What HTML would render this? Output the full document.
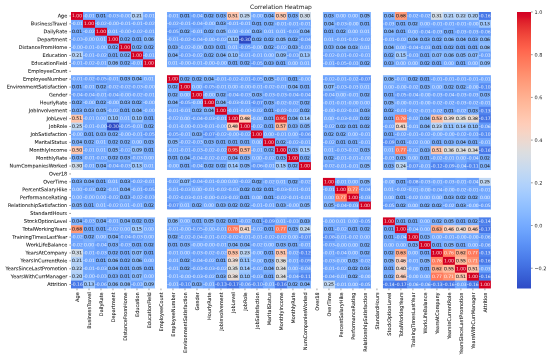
<!DOCTYPE html>
<html lang="en"><head><meta charset="utf-8"><title>Correlation Heatmap</title>
<style>html,body{margin:0;padding:0;background:#fff}body{width:550px;height:359px;overflow:hidden}svg{display:block;filter:blur(0.35px)}text{font-family:"DejaVu Sans","Liberation Sans",sans-serif;text-rendering:geometricPrecision}.w{fill:#fff;fill-opacity:.85;stroke:none}</style>
</head><body>
<svg width="550" height="359" viewBox="0 0 550 359">
<rect width="550" height="359" fill="#fff"/>
<defs><linearGradient id="cb" x1="0" y1="0" x2="0" y2="1"><stop offset="0.0000" stop-color="#d30022"/><stop offset="0.0156" stop-color="#d80926"/><stop offset="0.0312" stop-color="#de1e2a"/><stop offset="0.0469" stop-color="#e42c2f"/><stop offset="0.0625" stop-color="#e93834"/><stop offset="0.0781" stop-color="#ef4339"/><stop offset="0.0938" stop-color="#f34d3e"/><stop offset="0.1094" stop-color="#f85644"/><stop offset="0.1250" stop-color="#fc5e49"/><stop offset="0.1406" stop-color="#ff674f"/><stop offset="0.1562" stop-color="#ff6f54"/><stop offset="0.1719" stop-color="#ff775a"/><stop offset="0.1875" stop-color="#ff7e60"/><stop offset="0.2031" stop-color="#ff8566"/><stop offset="0.2188" stop-color="#ff8d6c"/><stop offset="0.2344" stop-color="#ff9373"/><stop offset="0.2500" stop-color="#ff9a79"/><stop offset="0.2656" stop-color="#ffa07f"/><stop offset="0.2812" stop-color="#ffa686"/><stop offset="0.2969" stop-color="#ffac8c"/><stop offset="0.3125" stop-color="#ffb293"/><stop offset="0.3281" stop-color="#ffb799"/><stop offset="0.3438" stop-color="#ffbc9f"/><stop offset="0.3594" stop-color="#ffc0a6"/><stop offset="0.3750" stop-color="#ffc5ac"/><stop offset="0.3906" stop-color="#ffc9b3"/><stop offset="0.4062" stop-color="#fecdb9"/><stop offset="0.4219" stop-color="#fad0bf"/><stop offset="0.4375" stop-color="#f6d4c5"/><stop offset="0.4531" stop-color="#f0d6cb"/><stop offset="0.4688" stop-color="#ebd9d1"/><stop offset="0.4844" stop-color="#e5dbd7"/><stop offset="0.5000" stop-color="#dedddd"/><stop offset="0.5156" stop-color="#d9dde2"/><stop offset="0.5312" stop-color="#d4dce6"/><stop offset="0.5469" stop-color="#cedbea"/><stop offset="0.5625" stop-color="#c8daee"/><stop offset="0.5781" stop-color="#c2d8f2"/><stop offset="0.5938" stop-color="#bcd6f5"/><stop offset="0.6094" stop-color="#b6d4f8"/><stop offset="0.6250" stop-color="#b0d1fb"/><stop offset="0.6406" stop-color="#aacefc"/><stop offset="0.6562" stop-color="#a3cbfe"/><stop offset="0.6719" stop-color="#9dc7ff"/><stop offset="0.6875" stop-color="#96c3ff"/><stop offset="0.7031" stop-color="#90bfff"/><stop offset="0.7188" stop-color="#8abbff"/><stop offset="0.7344" stop-color="#84b6ff"/><stop offset="0.7500" stop-color="#7db1ff"/><stop offset="0.7656" stop-color="#77acff"/><stop offset="0.7812" stop-color="#71a7fe"/><stop offset="0.7969" stop-color="#6ba2fc"/><stop offset="0.8125" stop-color="#659cfa"/><stop offset="0.8281" stop-color="#6096f8"/><stop offset="0.8438" stop-color="#5a90f5"/><stop offset="0.8594" stop-color="#558af1"/><stop offset="0.8750" stop-color="#5083ee"/><stop offset="0.8906" stop-color="#4b7dea"/><stop offset="0.9062" stop-color="#4676e6"/><stop offset="0.9219" stop-color="#426fe1"/><stop offset="0.9375" stop-color="#3d68dc"/><stop offset="0.9531" stop-color="#3961d6"/><stop offset="0.9688" stop-color="#355ad1"/><stop offset="0.9844" stop-color="#3252cb"/><stop offset="1.0000" stop-color="#2e4bc5"/></linearGradient>
<clipPath id="hm"><rect x="71.00" y="12.00" width="419.90" height="276.50"/></clipPath></defs>
<text transform="matrix(1 0.0006 0 1 0 -0.1686)" x="280.95" y="9.06" font-size="5.94" text-anchor="middle" fill="#1a1a1a">Correlation Heatmap</text>
<g clip-path="url(#hm)">
<rect x="71.00" y="12.00" width="12.35" height="8.25" fill="#d30022"/>
<rect x="83.00" y="12.00" width="12.35" height="8.25" fill="#71a7fe"/>
<rect x="94.99" y="12.00" width="12.35" height="8.25" fill="#77acff"/>
<rect x="106.99" y="12.00" width="12.35" height="8.25" fill="#6ba2fc"/>
<rect x="118.99" y="12.00" width="12.35" height="8.25" fill="#74aaff"/>
<rect x="130.99" y="12.00" width="12.35" height="8.25" fill="#b5d3f9"/>
<rect x="142.98" y="12.00" width="12.35" height="8.25" fill="#71a7fe"/>
<rect x="154.98" y="12.00" width="12.35" height="8.25" fill="#ffffff"/>
<rect x="166.98" y="12.00" width="12.35" height="8.25" fill="#71a7fe"/>
<rect x="178.97" y="12.00" width="12.35" height="8.25" fill="#77acff"/>
<rect x="190.97" y="12.00" width="12.35" height="8.25" fill="#689ffb"/>
<rect x="202.97" y="12.00" width="12.35" height="8.25" fill="#7aafff"/>
<rect x="214.97" y="12.00" width="12.35" height="8.25" fill="#7db1ff"/>
<rect x="226.96" y="12.00" width="12.35" height="8.25" fill="#ffc6ae"/>
<rect x="238.96" y="12.00" width="12.35" height="8.25" fill="#c1d8f3"/>
<rect x="250.96" y="12.00" width="12.35" height="8.25" fill="#74aaff"/>
<rect x="262.95" y="12.00" width="12.35" height="8.25" fill="#80b4ff"/>
<rect x="274.95" y="12.00" width="12.35" height="8.25" fill="#ffc8b1"/>
<rect x="286.95" y="12.00" width="12.35" height="8.25" fill="#7db1ff"/>
<rect x="298.95" y="12.00" width="12.35" height="8.25" fill="#cfdbe9"/>
<rect x="310.94" y="12.00" width="12.35" height="8.25" fill="#ffffff"/>
<rect x="322.94" y="12.00" width="12.35" height="8.25" fill="#7db1ff"/>
<rect x="334.94" y="12.00" width="12.35" height="8.25" fill="#76abff"/>
<rect x="346.93" y="12.00" width="12.35" height="8.25" fill="#76abff"/>
<rect x="358.93" y="12.00" width="12.35" height="8.25" fill="#84b6ff"/>
<rect x="370.93" y="12.00" width="12.35" height="8.25" fill="#ffffff"/>
<rect x="382.93" y="12.00" width="12.35" height="8.25" fill="#80b4ff"/>
<rect x="394.92" y="12.00" width="12.35" height="8.25" fill="#ff9a79"/>
<rect x="406.92" y="12.00" width="12.35" height="8.25" fill="#6ea4fd"/>
<rect x="418.92" y="12.00" width="12.35" height="8.25" fill="#6ea4fd"/>
<rect x="430.91" y="12.00" width="12.35" height="8.25" fill="#d2dce7"/>
<rect x="442.91" y="12.00" width="12.35" height="8.25" fill="#b5d3f9"/>
<rect x="454.91" y="12.00" width="12.35" height="8.25" fill="#b8d4f7"/>
<rect x="466.91" y="12.00" width="12.35" height="8.25" fill="#b1d2fa"/>
<rect x="478.90" y="12.00" width="12.35" height="8.25" fill="#4879e8"/>
<rect x="71.00" y="19.90" width="12.35" height="8.25" fill="#71a7fe"/>
<rect x="83.00" y="19.90" width="12.35" height="8.25" fill="#d30022"/>
<rect x="94.99" y="19.90" width="12.35" height="8.25" fill="#6ea4fd"/>
<rect x="106.99" y="19.90" width="12.35" height="8.25" fill="#74aaff"/>
<rect x="118.99" y="19.90" width="12.35" height="8.25" fill="#71a7fe"/>
<rect x="130.99" y="19.90" width="12.35" height="8.25" fill="#71a7fe"/>
<rect x="142.98" y="19.90" width="12.35" height="8.25" fill="#6ea4fd"/>
<rect x="154.98" y="19.90" width="12.35" height="8.25" fill="#ffffff"/>
<rect x="166.98" y="19.90" width="12.35" height="8.25" fill="#6ea4fd"/>
<rect x="178.97" y="19.90" width="12.35" height="8.25" fill="#71a7fe"/>
<rect x="190.97" y="19.90" width="12.35" height="8.25" fill="#689ffb"/>
<rect x="202.97" y="19.90" width="12.35" height="8.25" fill="#74aaff"/>
<rect x="214.97" y="19.90" width="12.35" height="8.25" fill="#7db1ff"/>
<rect x="226.96" y="19.90" width="12.35" height="8.25" fill="#71a7fe"/>
<rect x="238.96" y="19.90" width="12.35" height="8.25" fill="#71a7fe"/>
<rect x="250.96" y="19.90" width="12.35" height="8.25" fill="#77acff"/>
<rect x="262.95" y="19.90" width="12.35" height="8.25" fill="#7aafff"/>
<rect x="274.95" y="19.90" width="12.35" height="8.25" fill="#71a7fe"/>
<rect x="286.95" y="19.90" width="12.35" height="8.25" fill="#71a7fe"/>
<rect x="298.95" y="19.90" width="12.35" height="8.25" fill="#71a7fe"/>
<rect x="310.94" y="19.90" width="12.35" height="8.25" fill="#ffffff"/>
<rect x="322.94" y="19.90" width="12.35" height="8.25" fill="#80b4ff"/>
<rect x="334.94" y="19.90" width="12.35" height="8.25" fill="#6ba2fc"/>
<rect x="346.93" y="19.90" width="12.35" height="8.25" fill="#74aaff"/>
<rect x="358.93" y="19.90" width="12.35" height="8.25" fill="#77acff"/>
<rect x="370.93" y="19.90" width="12.35" height="8.25" fill="#ffffff"/>
<rect x="382.93" y="19.90" width="12.35" height="8.25" fill="#6ba2fc"/>
<rect x="394.92" y="19.90" width="12.35" height="8.25" fill="#77acff"/>
<rect x="406.92" y="19.90" width="12.35" height="8.25" fill="#7aafff"/>
<rect x="418.92" y="19.90" width="12.35" height="8.25" fill="#76abff"/>
<rect x="430.91" y="19.90" width="12.35" height="8.25" fill="#71a7fe"/>
<rect x="442.91" y="19.90" width="12.35" height="8.25" fill="#71a7fe"/>
<rect x="454.91" y="19.90" width="12.35" height="8.25" fill="#71a7fe"/>
<rect x="466.91" y="19.90" width="12.35" height="8.25" fill="#74aaff"/>
<rect x="478.90" y="19.90" width="12.35" height="8.25" fill="#9dc7ff"/>
<rect x="71.00" y="27.80" width="12.35" height="8.25" fill="#77acff"/>
<rect x="83.00" y="27.80" width="12.35" height="8.25" fill="#6ea4fd"/>
<rect x="94.99" y="27.80" width="12.35" height="8.25" fill="#d30022"/>
<rect x="106.99" y="27.80" width="12.35" height="8.25" fill="#76abff"/>
<rect x="118.99" y="27.80" width="12.35" height="8.25" fill="#74aaff"/>
<rect x="130.99" y="27.80" width="12.35" height="8.25" fill="#6ea4fd"/>
<rect x="142.98" y="27.80" width="12.35" height="8.25" fill="#71a7fe"/>
<rect x="154.98" y="27.80" width="12.35" height="8.25" fill="#ffffff"/>
<rect x="166.98" y="27.80" width="12.35" height="8.25" fill="#659cfa"/>
<rect x="178.97" y="27.80" width="12.35" height="8.25" fill="#7aafff"/>
<rect x="190.97" y="27.80" width="12.35" height="8.25" fill="#71a7fe"/>
<rect x="202.97" y="27.80" width="12.35" height="8.25" fill="#7aafff"/>
<rect x="214.97" y="27.80" width="12.35" height="8.25" fill="#84b6ff"/>
<rect x="226.96" y="27.80" width="12.35" height="8.25" fill="#76abff"/>
<rect x="238.96" y="27.80" width="12.35" height="8.25" fill="#74aaff"/>
<rect x="250.96" y="27.80" width="12.35" height="8.25" fill="#7db1ff"/>
<rect x="262.95" y="27.80" width="12.35" height="8.25" fill="#76abff"/>
<rect x="274.95" y="27.80" width="12.35" height="8.25" fill="#76abff"/>
<rect x="286.95" y="27.80" width="12.35" height="8.25" fill="#6ba2fc"/>
<rect x="298.95" y="27.80" width="12.35" height="8.25" fill="#80b4ff"/>
<rect x="310.94" y="27.80" width="12.35" height="8.25" fill="#ffffff"/>
<rect x="322.94" y="27.80" width="12.35" height="8.25" fill="#77acff"/>
<rect x="334.94" y="27.80" width="12.35" height="8.25" fill="#7aafff"/>
<rect x="346.93" y="27.80" width="12.35" height="8.25" fill="#76abff"/>
<rect x="358.93" y="27.80" width="12.35" height="8.25" fill="#76abff"/>
<rect x="370.93" y="27.80" width="12.35" height="8.25" fill="#ffffff"/>
<rect x="382.93" y="27.80" width="12.35" height="8.25" fill="#80b4ff"/>
<rect x="394.92" y="27.80" width="12.35" height="8.25" fill="#77acff"/>
<rect x="406.92" y="27.80" width="12.35" height="8.25" fill="#76abff"/>
<rect x="418.92" y="27.80" width="12.35" height="8.25" fill="#689ffb"/>
<rect x="430.91" y="27.80" width="12.35" height="8.25" fill="#6ba2fc"/>
<rect x="442.91" y="27.80" width="12.35" height="8.25" fill="#77acff"/>
<rect x="454.91" y="27.80" width="12.35" height="8.25" fill="#6ba2fc"/>
<rect x="466.91" y="27.80" width="12.35" height="8.25" fill="#6ba2fc"/>
<rect x="478.90" y="27.80" width="12.35" height="8.25" fill="#6299f9"/>
<rect x="71.00" y="35.70" width="12.35" height="8.25" fill="#6ba2fc"/>
<rect x="83.00" y="35.70" width="12.35" height="8.25" fill="#74aaff"/>
<rect x="94.99" y="35.70" width="12.35" height="8.25" fill="#76abff"/>
<rect x="106.99" y="35.70" width="12.35" height="8.25" fill="#d30022"/>
<rect x="118.99" y="35.70" width="12.35" height="8.25" fill="#7aafff"/>
<rect x="130.99" y="35.70" width="12.35" height="8.25" fill="#77acff"/>
<rect x="142.98" y="35.70" width="12.35" height="8.25" fill="#87b9ff"/>
<rect x="154.98" y="35.70" width="12.35" height="8.25" fill="#ffffff"/>
<rect x="166.98" y="35.70" width="12.35" height="8.25" fill="#71a7fe"/>
<rect x="178.97" y="35.70" width="12.35" height="8.25" fill="#6ea4fd"/>
<rect x="190.97" y="35.70" width="12.35" height="8.25" fill="#689ffb"/>
<rect x="202.97" y="35.70" width="12.35" height="8.25" fill="#74aaff"/>
<rect x="214.97" y="35.70" width="12.35" height="8.25" fill="#6ea4fd"/>
<rect x="226.96" y="35.70" width="12.35" height="8.25" fill="#93c1ff"/>
<rect x="238.96" y="35.70" width="12.35" height="8.25" fill="#2e4bc5"/>
<rect x="250.96" y="35.70" width="12.35" height="8.25" fill="#7aafff"/>
<rect x="262.95" y="35.70" width="12.35" height="8.25" fill="#7aafff"/>
<rect x="274.95" y="35.70" width="12.35" height="8.25" fill="#84b6ff"/>
<rect x="286.95" y="35.70" width="12.35" height="8.25" fill="#7aafff"/>
<rect x="298.95" y="35.70" width="12.35" height="8.25" fill="#689ffb"/>
<rect x="310.94" y="35.70" width="12.35" height="8.25" fill="#ffffff"/>
<rect x="322.94" y="35.70" width="12.35" height="8.25" fill="#76abff"/>
<rect x="334.94" y="35.70" width="12.35" height="8.25" fill="#71a7fe"/>
<rect x="346.93" y="35.70" width="12.35" height="8.25" fill="#6ea4fd"/>
<rect x="358.93" y="35.70" width="12.35" height="8.25" fill="#6ea4fd"/>
<rect x="370.93" y="35.70" width="12.35" height="8.25" fill="#ffffff"/>
<rect x="382.93" y="35.70" width="12.35" height="8.25" fill="#71a7fe"/>
<rect x="394.92" y="35.70" width="12.35" height="8.25" fill="#6ea4fd"/>
<rect x="406.92" y="35.70" width="12.35" height="8.25" fill="#80b4ff"/>
<rect x="418.92" y="35.70" width="12.35" height="8.25" fill="#7db1ff"/>
<rect x="430.91" y="35.70" width="12.35" height="8.25" fill="#7aafff"/>
<rect x="442.91" y="35.70" width="12.35" height="8.25" fill="#87b9ff"/>
<rect x="454.91" y="35.70" width="12.35" height="8.25" fill="#80b4ff"/>
<rect x="466.91" y="35.70" width="12.35" height="8.25" fill="#7db1ff"/>
<rect x="478.90" y="35.70" width="12.35" height="8.25" fill="#87b9ff"/>
<rect x="71.00" y="43.60" width="12.35" height="8.25" fill="#74aaff"/>
<rect x="83.00" y="43.60" width="12.35" height="8.25" fill="#71a7fe"/>
<rect x="94.99" y="43.60" width="12.35" height="8.25" fill="#74aaff"/>
<rect x="106.99" y="43.60" width="12.35" height="8.25" fill="#7aafff"/>
<rect x="118.99" y="43.60" width="12.35" height="8.25" fill="#d30022"/>
<rect x="130.99" y="43.60" width="12.35" height="8.25" fill="#7aafff"/>
<rect x="142.98" y="43.60" width="12.35" height="8.25" fill="#7aafff"/>
<rect x="154.98" y="43.60" width="12.35" height="8.25" fill="#ffffff"/>
<rect x="166.98" y="43.60" width="12.35" height="8.25" fill="#7db1ff"/>
<rect x="178.97" y="43.60" width="12.35" height="8.25" fill="#6ea4fd"/>
<rect x="190.97" y="43.60" width="12.35" height="8.25" fill="#74aaff"/>
<rect x="202.97" y="43.60" width="12.35" height="8.25" fill="#7db1ff"/>
<rect x="214.97" y="43.60" width="12.35" height="8.25" fill="#77acff"/>
<rect x="226.96" y="43.60" width="12.35" height="8.25" fill="#76abff"/>
<rect x="238.96" y="43.60" width="12.35" height="8.25" fill="#659cfa"/>
<rect x="250.96" y="43.60" width="12.35" height="8.25" fill="#74aaff"/>
<rect x="262.95" y="43.60" width="12.35" height="8.25" fill="#7aafff"/>
<rect x="274.95" y="43.60" width="12.35" height="8.25" fill="#6ea4fd"/>
<rect x="286.95" y="43.60" width="12.35" height="8.25" fill="#7db1ff"/>
<rect x="298.95" y="43.60" width="12.35" height="8.25" fill="#6ba2fc"/>
<rect x="310.94" y="43.60" width="12.35" height="8.25" fill="#ffffff"/>
<rect x="322.94" y="43.60" width="12.35" height="8.25" fill="#7db1ff"/>
<rect x="334.94" y="43.60" width="12.35" height="8.25" fill="#80b4ff"/>
<rect x="346.93" y="43.60" width="12.35" height="8.25" fill="#7db1ff"/>
<rect x="358.93" y="43.60" width="12.35" height="8.25" fill="#76abff"/>
<rect x="370.93" y="43.60" width="12.35" height="8.25" fill="#ffffff"/>
<rect x="382.93" y="43.60" width="12.35" height="8.25" fill="#80b4ff"/>
<rect x="394.92" y="43.60" width="12.35" height="8.25" fill="#76abff"/>
<rect x="406.92" y="43.60" width="12.35" height="8.25" fill="#689ffb"/>
<rect x="418.92" y="43.60" width="12.35" height="8.25" fill="#6ba2fc"/>
<rect x="430.91" y="43.60" width="12.35" height="8.25" fill="#77acff"/>
<rect x="442.91" y="43.60" width="12.35" height="8.25" fill="#7aafff"/>
<rect x="454.91" y="43.60" width="12.35" height="8.25" fill="#77acff"/>
<rect x="466.91" y="43.60" width="12.35" height="8.25" fill="#77acff"/>
<rect x="478.90" y="43.60" width="12.35" height="8.25" fill="#8dbdff"/>
<rect x="71.00" y="51.50" width="12.35" height="8.25" fill="#b5d3f9"/>
<rect x="83.00" y="51.50" width="12.35" height="8.25" fill="#71a7fe"/>
<rect x="94.99" y="51.50" width="12.35" height="8.25" fill="#6ea4fd"/>
<rect x="106.99" y="51.50" width="12.35" height="8.25" fill="#77acff"/>
<rect x="118.99" y="51.50" width="12.35" height="8.25" fill="#7aafff"/>
<rect x="130.99" y="51.50" width="12.35" height="8.25" fill="#d30022"/>
<rect x="142.98" y="51.50" width="12.35" height="8.25" fill="#71a7fe"/>
<rect x="154.98" y="51.50" width="12.35" height="8.25" fill="#ffffff"/>
<rect x="166.98" y="51.50" width="12.35" height="8.25" fill="#80b4ff"/>
<rect x="178.97" y="51.50" width="12.35" height="8.25" fill="#6ba2fc"/>
<rect x="190.97" y="51.50" width="12.35" height="8.25" fill="#6ea4fd"/>
<rect x="202.97" y="51.50" width="12.35" height="8.25" fill="#7aafff"/>
<rect x="214.97" y="51.50" width="12.35" height="8.25" fill="#80b4ff"/>
<rect x="226.96" y="51.50" width="12.35" height="8.25" fill="#93c1ff"/>
<rect x="238.96" y="51.50" width="12.35" height="8.25" fill="#71a7fe"/>
<rect x="250.96" y="51.50" width="12.35" height="8.25" fill="#71a7fe"/>
<rect x="262.95" y="51.50" width="12.35" height="8.25" fill="#76abff"/>
<rect x="274.95" y="51.50" width="12.35" height="8.25" fill="#90bfff"/>
<rect x="286.95" y="51.50" width="12.35" height="8.25" fill="#6ba2fc"/>
<rect x="298.95" y="51.50" width="12.35" height="8.25" fill="#9dc7ff"/>
<rect x="310.94" y="51.50" width="12.35" height="8.25" fill="#ffffff"/>
<rect x="322.94" y="51.50" width="12.35" height="8.25" fill="#6ea4fd"/>
<rect x="334.94" y="51.50" width="12.35" height="8.25" fill="#71a7fe"/>
<rect x="346.93" y="51.50" width="12.35" height="8.25" fill="#6ea4fd"/>
<rect x="358.93" y="51.50" width="12.35" height="8.25" fill="#71a7fe"/>
<rect x="370.93" y="51.50" width="12.35" height="8.25" fill="#ffffff"/>
<rect x="382.93" y="51.50" width="12.35" height="8.25" fill="#7aafff"/>
<rect x="394.92" y="51.50" width="12.35" height="8.25" fill="#a2caff"/>
<rect x="406.92" y="51.50" width="12.35" height="8.25" fill="#6ba2fc"/>
<rect x="418.92" y="51.50" width="12.35" height="8.25" fill="#77acff"/>
<rect x="430.91" y="51.50" width="12.35" height="8.25" fill="#8abbff"/>
<rect x="442.91" y="51.50" width="12.35" height="8.25" fill="#87b9ff"/>
<rect x="454.91" y="51.50" width="12.35" height="8.25" fill="#84b6ff"/>
<rect x="466.91" y="51.50" width="12.35" height="8.25" fill="#8abbff"/>
<rect x="478.90" y="51.50" width="12.35" height="8.25" fill="#6ba2fc"/>
<rect x="71.00" y="59.40" width="12.35" height="8.25" fill="#71a7fe"/>
<rect x="83.00" y="59.40" width="12.35" height="8.25" fill="#6ea4fd"/>
<rect x="94.99" y="59.40" width="12.35" height="8.25" fill="#71a7fe"/>
<rect x="106.99" y="59.40" width="12.35" height="8.25" fill="#87b9ff"/>
<rect x="118.99" y="59.40" width="12.35" height="8.25" fill="#7aafff"/>
<rect x="130.99" y="59.40" width="12.35" height="8.25" fill="#71a7fe"/>
<rect x="142.98" y="59.40" width="12.35" height="8.25" fill="#d30022"/>
<rect x="154.98" y="59.40" width="12.35" height="8.25" fill="#ffffff"/>
<rect x="166.98" y="59.40" width="12.35" height="8.25" fill="#76abff"/>
<rect x="178.97" y="59.40" width="12.35" height="8.25" fill="#74aaff"/>
<rect x="190.97" y="59.40" width="12.35" height="8.25" fill="#71a7fe"/>
<rect x="202.97" y="59.40" width="12.35" height="8.25" fill="#74aaff"/>
<rect x="214.97" y="59.40" width="12.35" height="8.25" fill="#74aaff"/>
<rect x="226.96" y="59.40" width="12.35" height="8.25" fill="#77acff"/>
<rect x="238.96" y="59.40" width="12.35" height="8.25" fill="#7aafff"/>
<rect x="250.96" y="59.40" width="12.35" height="8.25" fill="#659cfa"/>
<rect x="262.95" y="59.40" width="12.35" height="8.25" fill="#7db1ff"/>
<rect x="274.95" y="59.40" width="12.35" height="8.25" fill="#77acff"/>
<rect x="286.95" y="59.40" width="12.35" height="8.25" fill="#76abff"/>
<rect x="298.95" y="59.40" width="12.35" height="8.25" fill="#76abff"/>
<rect x="310.94" y="59.40" width="12.35" height="8.25" fill="#ffffff"/>
<rect x="322.94" y="59.40" width="12.35" height="8.25" fill="#71a7fe"/>
<rect x="334.94" y="59.40" width="12.35" height="8.25" fill="#659cfa"/>
<rect x="346.93" y="59.40" width="12.35" height="8.25" fill="#6ba2fc"/>
<rect x="358.93" y="59.40" width="12.35" height="8.25" fill="#7aafff"/>
<rect x="370.93" y="59.40" width="12.35" height="8.25" fill="#ffffff"/>
<rect x="382.93" y="59.40" width="12.35" height="8.25" fill="#7db1ff"/>
<rect x="394.92" y="59.40" width="12.35" height="8.25" fill="#76abff"/>
<rect x="406.92" y="59.40" width="12.35" height="8.25" fill="#76abff"/>
<rect x="418.92" y="59.40" width="12.35" height="8.25" fill="#7aafff"/>
<rect x="430.91" y="59.40" width="12.35" height="8.25" fill="#77acff"/>
<rect x="442.91" y="59.40" width="12.35" height="8.25" fill="#76abff"/>
<rect x="454.91" y="59.40" width="12.35" height="8.25" fill="#77acff"/>
<rect x="466.91" y="59.40" width="12.35" height="8.25" fill="#76abff"/>
<rect x="478.90" y="59.40" width="12.35" height="8.25" fill="#90bfff"/>
<rect x="71.00" y="67.30" width="12.35" height="8.25" fill="#ffffff"/>
<rect x="83.00" y="67.30" width="12.35" height="8.25" fill="#ffffff"/>
<rect x="94.99" y="67.30" width="12.35" height="8.25" fill="#ffffff"/>
<rect x="106.99" y="67.30" width="12.35" height="8.25" fill="#ffffff"/>
<rect x="118.99" y="67.30" width="12.35" height="8.25" fill="#ffffff"/>
<rect x="130.99" y="67.30" width="12.35" height="8.25" fill="#ffffff"/>
<rect x="142.98" y="67.30" width="12.35" height="8.25" fill="#ffffff"/>
<rect x="154.98" y="67.30" width="12.35" height="8.25" fill="#ffffff"/>
<rect x="166.98" y="67.30" width="12.35" height="8.25" fill="#ffffff"/>
<rect x="178.97" y="67.30" width="12.35" height="8.25" fill="#ffffff"/>
<rect x="190.97" y="67.30" width="12.35" height="8.25" fill="#ffffff"/>
<rect x="202.97" y="67.30" width="12.35" height="8.25" fill="#ffffff"/>
<rect x="214.97" y="67.30" width="12.35" height="8.25" fill="#ffffff"/>
<rect x="226.96" y="67.30" width="12.35" height="8.25" fill="#ffffff"/>
<rect x="238.96" y="67.30" width="12.35" height="8.25" fill="#ffffff"/>
<rect x="250.96" y="67.30" width="12.35" height="8.25" fill="#ffffff"/>
<rect x="262.95" y="67.30" width="12.35" height="8.25" fill="#ffffff"/>
<rect x="274.95" y="67.30" width="12.35" height="8.25" fill="#ffffff"/>
<rect x="286.95" y="67.30" width="12.35" height="8.25" fill="#ffffff"/>
<rect x="298.95" y="67.30" width="12.35" height="8.25" fill="#ffffff"/>
<rect x="310.94" y="67.30" width="12.35" height="8.25" fill="#ffffff"/>
<rect x="322.94" y="67.30" width="12.35" height="8.25" fill="#ffffff"/>
<rect x="334.94" y="67.30" width="12.35" height="8.25" fill="#ffffff"/>
<rect x="346.93" y="67.30" width="12.35" height="8.25" fill="#ffffff"/>
<rect x="358.93" y="67.30" width="12.35" height="8.25" fill="#ffffff"/>
<rect x="370.93" y="67.30" width="12.35" height="8.25" fill="#ffffff"/>
<rect x="382.93" y="67.30" width="12.35" height="8.25" fill="#ffffff"/>
<rect x="394.92" y="67.30" width="12.35" height="8.25" fill="#ffffff"/>
<rect x="406.92" y="67.30" width="12.35" height="8.25" fill="#ffffff"/>
<rect x="418.92" y="67.30" width="12.35" height="8.25" fill="#ffffff"/>
<rect x="430.91" y="67.30" width="12.35" height="8.25" fill="#ffffff"/>
<rect x="442.91" y="67.30" width="12.35" height="8.25" fill="#ffffff"/>
<rect x="454.91" y="67.30" width="12.35" height="8.25" fill="#ffffff"/>
<rect x="466.91" y="67.30" width="12.35" height="8.25" fill="#ffffff"/>
<rect x="478.90" y="67.30" width="12.35" height="8.25" fill="#ffffff"/>
<rect x="71.00" y="75.20" width="12.35" height="8.25" fill="#71a7fe"/>
<rect x="83.00" y="75.20" width="12.35" height="8.25" fill="#6ea4fd"/>
<rect x="94.99" y="75.20" width="12.35" height="8.25" fill="#659cfa"/>
<rect x="106.99" y="75.20" width="12.35" height="8.25" fill="#71a7fe"/>
<rect x="118.99" y="75.20" width="12.35" height="8.25" fill="#7db1ff"/>
<rect x="130.99" y="75.20" width="12.35" height="8.25" fill="#80b4ff"/>
<rect x="142.98" y="75.20" width="12.35" height="8.25" fill="#76abff"/>
<rect x="154.98" y="75.20" width="12.35" height="8.25" fill="#ffffff"/>
<rect x="166.98" y="75.20" width="12.35" height="8.25" fill="#d30022"/>
<rect x="178.97" y="75.20" width="12.35" height="8.25" fill="#7aafff"/>
<rect x="190.97" y="75.20" width="12.35" height="8.25" fill="#7aafff"/>
<rect x="202.97" y="75.20" width="12.35" height="8.25" fill="#80b4ff"/>
<rect x="214.97" y="75.20" width="12.35" height="8.25" fill="#71a7fe"/>
<rect x="226.96" y="75.20" width="12.35" height="8.25" fill="#6ea4fd"/>
<rect x="238.96" y="75.20" width="12.35" height="8.25" fill="#71a7fe"/>
<rect x="250.96" y="75.20" width="12.35" height="8.25" fill="#659cfa"/>
<rect x="262.95" y="75.20" width="12.35" height="8.25" fill="#84b6ff"/>
<rect x="274.95" y="75.20" width="12.35" height="8.25" fill="#71a7fe"/>
<rect x="286.95" y="75.20" width="12.35" height="8.25" fill="#77acff"/>
<rect x="298.95" y="75.20" width="12.35" height="8.25" fill="#74aaff"/>
<rect x="310.94" y="75.20" width="12.35" height="8.25" fill="#ffffff"/>
<rect x="322.94" y="75.20" width="12.35" height="8.25" fill="#6ea4fd"/>
<rect x="334.94" y="75.20" width="12.35" height="8.25" fill="#71a7fe"/>
<rect x="346.93" y="75.20" width="12.35" height="8.25" fill="#6ea4fd"/>
<rect x="358.93" y="75.20" width="12.35" height="8.25" fill="#6096f8"/>
<rect x="370.93" y="75.20" width="12.35" height="8.25" fill="#ffffff"/>
<rect x="382.93" y="75.20" width="12.35" height="8.25" fill="#87b9ff"/>
<rect x="394.92" y="75.20" width="12.35" height="8.25" fill="#71a7fe"/>
<rect x="406.92" y="75.20" width="12.35" height="8.25" fill="#7aafff"/>
<rect x="418.92" y="75.20" width="12.35" height="8.25" fill="#77acff"/>
<rect x="430.91" y="75.20" width="12.35" height="8.25" fill="#71a7fe"/>
<rect x="442.91" y="75.20" width="12.35" height="8.25" fill="#71a7fe"/>
<rect x="454.91" y="75.20" width="12.35" height="8.25" fill="#71a7fe"/>
<rect x="466.91" y="75.20" width="12.35" height="8.25" fill="#71a7fe"/>
<rect x="478.90" y="75.20" width="12.35" height="8.25" fill="#71a7fe"/>
<rect x="71.00" y="83.10" width="12.35" height="8.25" fill="#77acff"/>
<rect x="83.00" y="83.10" width="12.35" height="8.25" fill="#71a7fe"/>
<rect x="94.99" y="83.10" width="12.35" height="8.25" fill="#7aafff"/>
<rect x="106.99" y="83.10" width="12.35" height="8.25" fill="#6ea4fd"/>
<rect x="118.99" y="83.10" width="12.35" height="8.25" fill="#6ea4fd"/>
<rect x="130.99" y="83.10" width="12.35" height="8.25" fill="#6ba2fc"/>
<rect x="142.98" y="83.10" width="12.35" height="8.25" fill="#74aaff"/>
<rect x="154.98" y="83.10" width="12.35" height="8.25" fill="#ffffff"/>
<rect x="166.98" y="83.10" width="12.35" height="8.25" fill="#7aafff"/>
<rect x="178.97" y="83.10" width="12.35" height="8.25" fill="#d30022"/>
<rect x="190.97" y="83.10" width="12.35" height="8.25" fill="#76abff"/>
<rect x="202.97" y="83.10" width="12.35" height="8.25" fill="#659cfa"/>
<rect x="214.97" y="83.10" width="12.35" height="8.25" fill="#71a7fe"/>
<rect x="226.96" y="83.10" width="12.35" height="8.25" fill="#76abff"/>
<rect x="238.96" y="83.10" width="12.35" height="8.25" fill="#74aaff"/>
<rect x="250.96" y="83.10" width="12.35" height="8.25" fill="#71a7fe"/>
<rect x="262.95" y="83.10" width="12.35" height="8.25" fill="#6ea4fd"/>
<rect x="274.95" y="83.10" width="12.35" height="8.25" fill="#71a7fe"/>
<rect x="286.95" y="83.10" width="12.35" height="8.25" fill="#80b4ff"/>
<rect x="298.95" y="83.10" width="12.35" height="8.25" fill="#77acff"/>
<rect x="310.94" y="83.10" width="12.35" height="8.25" fill="#ffffff"/>
<rect x="322.94" y="83.10" width="12.35" height="8.25" fill="#8abbff"/>
<rect x="334.94" y="83.10" width="12.35" height="8.25" fill="#6ba2fc"/>
<rect x="346.93" y="83.10" width="12.35" height="8.25" fill="#6ba2fc"/>
<rect x="358.93" y="83.10" width="12.35" height="8.25" fill="#76abff"/>
<rect x="370.93" y="83.10" width="12.35" height="8.25" fill="#ffffff"/>
<rect x="382.93" y="83.10" width="12.35" height="8.25" fill="#76abff"/>
<rect x="394.92" y="83.10" width="12.35" height="8.25" fill="#74aaff"/>
<rect x="406.92" y="83.10" width="12.35" height="8.25" fill="#6ea4fd"/>
<rect x="418.92" y="83.10" width="12.35" height="8.25" fill="#7db1ff"/>
<rect x="430.91" y="83.10" width="12.35" height="8.25" fill="#76abff"/>
<rect x="442.91" y="83.10" width="12.35" height="8.25" fill="#7aafff"/>
<rect x="454.91" y="83.10" width="12.35" height="8.25" fill="#7aafff"/>
<rect x="466.91" y="83.10" width="12.35" height="8.25" fill="#74aaff"/>
<rect x="478.90" y="83.10" width="12.35" height="8.25" fill="#578df3"/>
<rect x="71.00" y="91.00" width="12.35" height="8.25" fill="#689ffb"/>
<rect x="83.00" y="91.00" width="12.35" height="8.25" fill="#689ffb"/>
<rect x="94.99" y="91.00" width="12.35" height="8.25" fill="#71a7fe"/>
<rect x="106.99" y="91.00" width="12.35" height="8.25" fill="#689ffb"/>
<rect x="118.99" y="91.00" width="12.35" height="8.25" fill="#74aaff"/>
<rect x="130.99" y="91.00" width="12.35" height="8.25" fill="#6ea4fd"/>
<rect x="142.98" y="91.00" width="12.35" height="8.25" fill="#71a7fe"/>
<rect x="154.98" y="91.00" width="12.35" height="8.25" fill="#ffffff"/>
<rect x="166.98" y="91.00" width="12.35" height="8.25" fill="#7aafff"/>
<rect x="178.97" y="91.00" width="12.35" height="8.25" fill="#76abff"/>
<rect x="190.97" y="91.00" width="12.35" height="8.25" fill="#d30022"/>
<rect x="202.97" y="91.00" width="12.35" height="8.25" fill="#74aaff"/>
<rect x="214.97" y="91.00" width="12.35" height="8.25" fill="#7aafff"/>
<rect x="226.96" y="91.00" width="12.35" height="8.25" fill="#689ffb"/>
<rect x="238.96" y="91.00" width="12.35" height="8.25" fill="#6ba2fc"/>
<rect x="250.96" y="91.00" width="12.35" height="8.25" fill="#7db1ff"/>
<rect x="262.95" y="91.00" width="12.35" height="8.25" fill="#6ba2fc"/>
<rect x="274.95" y="91.00" width="12.35" height="8.25" fill="#6ba2fc"/>
<rect x="286.95" y="91.00" width="12.35" height="8.25" fill="#689ffb"/>
<rect x="298.95" y="91.00" width="12.35" height="8.25" fill="#689ffb"/>
<rect x="310.94" y="91.00" width="12.35" height="8.25" fill="#ffffff"/>
<rect x="322.94" y="91.00" width="12.35" height="8.25" fill="#689ffb"/>
<rect x="334.94" y="91.00" width="12.35" height="8.25" fill="#76abff"/>
<rect x="346.93" y="91.00" width="12.35" height="8.25" fill="#71a7fe"/>
<rect x="358.93" y="91.00" width="12.35" height="8.25" fill="#7aafff"/>
<rect x="370.93" y="91.00" width="12.35" height="8.25" fill="#ffffff"/>
<rect x="382.93" y="91.00" width="12.35" height="8.25" fill="#77acff"/>
<rect x="394.92" y="91.00" width="12.35" height="8.25" fill="#659cfa"/>
<rect x="406.92" y="91.00" width="12.35" height="8.25" fill="#689ffb"/>
<rect x="418.92" y="91.00" width="12.35" height="8.25" fill="#74aaff"/>
<rect x="430.91" y="91.00" width="12.35" height="8.25" fill="#6ba2fc"/>
<rect x="442.91" y="91.00" width="12.35" height="8.25" fill="#689ffb"/>
<rect x="454.91" y="91.00" width="12.35" height="8.25" fill="#6ba2fc"/>
<rect x="466.91" y="91.00" width="12.35" height="8.25" fill="#6ba2fc"/>
<rect x="478.90" y="91.00" width="12.35" height="8.25" fill="#7db1ff"/>
<rect x="71.00" y="98.90" width="12.35" height="8.25" fill="#7aafff"/>
<rect x="83.00" y="98.90" width="12.35" height="8.25" fill="#74aaff"/>
<rect x="94.99" y="98.90" width="12.35" height="8.25" fill="#7aafff"/>
<rect x="106.99" y="98.90" width="12.35" height="8.25" fill="#74aaff"/>
<rect x="118.99" y="98.90" width="12.35" height="8.25" fill="#7db1ff"/>
<rect x="130.99" y="98.90" width="12.35" height="8.25" fill="#7aafff"/>
<rect x="142.98" y="98.90" width="12.35" height="8.25" fill="#74aaff"/>
<rect x="154.98" y="98.90" width="12.35" height="8.25" fill="#ffffff"/>
<rect x="166.98" y="98.90" width="12.35" height="8.25" fill="#80b4ff"/>
<rect x="178.97" y="98.90" width="12.35" height="8.25" fill="#659cfa"/>
<rect x="190.97" y="98.90" width="12.35" height="8.25" fill="#74aaff"/>
<rect x="202.97" y="98.90" width="12.35" height="8.25" fill="#d30022"/>
<rect x="214.97" y="98.90" width="12.35" height="8.25" fill="#80b4ff"/>
<rect x="226.96" y="98.90" width="12.35" height="8.25" fill="#6ba2fc"/>
<rect x="238.96" y="98.90" width="12.35" height="8.25" fill="#71a7fe"/>
<rect x="250.96" y="98.90" width="12.35" height="8.25" fill="#6096f8"/>
<rect x="262.95" y="98.90" width="12.35" height="8.25" fill="#7db1ff"/>
<rect x="274.95" y="98.90" width="12.35" height="8.25" fill="#6ea4fd"/>
<rect x="286.95" y="98.90" width="12.35" height="8.25" fill="#6ea4fd"/>
<rect x="298.95" y="98.90" width="12.35" height="8.25" fill="#7aafff"/>
<rect x="310.94" y="98.90" width="12.35" height="8.25" fill="#ffffff"/>
<rect x="322.94" y="98.90" width="12.35" height="8.25" fill="#71a7fe"/>
<rect x="334.94" y="98.90" width="12.35" height="8.25" fill="#71a7fe"/>
<rect x="346.93" y="98.90" width="12.35" height="8.25" fill="#74aaff"/>
<rect x="358.93" y="98.90" width="12.35" height="8.25" fill="#76abff"/>
<rect x="370.93" y="98.90" width="12.35" height="8.25" fill="#ffffff"/>
<rect x="382.93" y="98.90" width="12.35" height="8.25" fill="#84b6ff"/>
<rect x="394.92" y="98.90" width="12.35" height="8.25" fill="#74aaff"/>
<rect x="406.92" y="98.90" width="12.35" height="8.25" fill="#71a7fe"/>
<rect x="418.92" y="98.90" width="12.35" height="8.25" fill="#74aaff"/>
<rect x="430.91" y="98.90" width="12.35" height="8.25" fill="#6ea4fd"/>
<rect x="442.91" y="98.90" width="12.35" height="8.25" fill="#6ea4fd"/>
<rect x="454.91" y="98.90" width="12.35" height="8.25" fill="#6ba2fc"/>
<rect x="466.91" y="98.90" width="12.35" height="8.25" fill="#6ea4fd"/>
<rect x="478.90" y="98.90" width="12.35" height="8.25" fill="#71a7fe"/>
<rect x="71.00" y="106.80" width="12.35" height="8.25" fill="#7db1ff"/>
<rect x="83.00" y="106.80" width="12.35" height="8.25" fill="#7db1ff"/>
<rect x="94.99" y="106.80" width="12.35" height="8.25" fill="#84b6ff"/>
<rect x="106.99" y="106.80" width="12.35" height="8.25" fill="#6ea4fd"/>
<rect x="118.99" y="106.80" width="12.35" height="8.25" fill="#77acff"/>
<rect x="130.99" y="106.80" width="12.35" height="8.25" fill="#80b4ff"/>
<rect x="142.98" y="106.80" width="12.35" height="8.25" fill="#74aaff"/>
<rect x="154.98" y="106.80" width="12.35" height="8.25" fill="#ffffff"/>
<rect x="166.98" y="106.80" width="12.35" height="8.25" fill="#71a7fe"/>
<rect x="178.97" y="106.80" width="12.35" height="8.25" fill="#71a7fe"/>
<rect x="190.97" y="106.80" width="12.35" height="8.25" fill="#7aafff"/>
<rect x="202.97" y="106.80" width="12.35" height="8.25" fill="#80b4ff"/>
<rect x="214.97" y="106.80" width="12.35" height="8.25" fill="#d30022"/>
<rect x="226.96" y="106.80" width="12.35" height="8.25" fill="#71a7fe"/>
<rect x="238.96" y="106.80" width="12.35" height="8.25" fill="#74aaff"/>
<rect x="250.96" y="106.80" width="12.35" height="8.25" fill="#6ea4fd"/>
<rect x="262.95" y="106.80" width="12.35" height="8.25" fill="#77acff"/>
<rect x="274.95" y="106.80" width="12.35" height="8.25" fill="#6ea4fd"/>
<rect x="286.95" y="106.80" width="12.35" height="8.25" fill="#6ea4fd"/>
<rect x="298.95" y="106.80" width="12.35" height="8.25" fill="#7aafff"/>
<rect x="310.94" y="106.80" width="12.35" height="8.25" fill="#ffffff"/>
<rect x="322.94" y="106.80" width="12.35" height="8.25" fill="#74aaff"/>
<rect x="334.94" y="106.80" width="12.35" height="8.25" fill="#6ea4fd"/>
<rect x="346.93" y="106.80" width="12.35" height="8.25" fill="#6ba2fc"/>
<rect x="358.93" y="106.80" width="12.35" height="8.25" fill="#7db1ff"/>
<rect x="370.93" y="106.80" width="12.35" height="8.25" fill="#ffffff"/>
<rect x="382.93" y="106.80" width="12.35" height="8.25" fill="#7aafff"/>
<rect x="394.92" y="106.80" width="12.35" height="8.25" fill="#71a7fe"/>
<rect x="406.92" y="106.80" width="12.35" height="8.25" fill="#6ea4fd"/>
<rect x="418.92" y="106.80" width="12.35" height="8.25" fill="#71a7fe"/>
<rect x="430.91" y="106.80" width="12.35" height="8.25" fill="#6ea4fd"/>
<rect x="442.91" y="106.80" width="12.35" height="8.25" fill="#77acff"/>
<rect x="454.91" y="106.80" width="12.35" height="8.25" fill="#6ea4fd"/>
<rect x="466.91" y="106.80" width="12.35" height="8.25" fill="#7db1ff"/>
<rect x="478.90" y="106.80" width="12.35" height="8.25" fill="#5083ee"/>
<rect x="71.00" y="114.70" width="12.35" height="8.25" fill="#ffc6ae"/>
<rect x="83.00" y="114.70" width="12.35" height="8.25" fill="#71a7fe"/>
<rect x="94.99" y="114.70" width="12.35" height="8.25" fill="#76abff"/>
<rect x="106.99" y="114.70" width="12.35" height="8.25" fill="#93c1ff"/>
<rect x="118.99" y="114.70" width="12.35" height="8.25" fill="#76abff"/>
<rect x="130.99" y="114.70" width="12.35" height="8.25" fill="#93c1ff"/>
<rect x="142.98" y="114.70" width="12.35" height="8.25" fill="#77acff"/>
<rect x="154.98" y="114.70" width="12.35" height="8.25" fill="#ffffff"/>
<rect x="166.98" y="114.70" width="12.35" height="8.25" fill="#6ea4fd"/>
<rect x="178.97" y="114.70" width="12.35" height="8.25" fill="#76abff"/>
<rect x="190.97" y="114.70" width="12.35" height="8.25" fill="#689ffb"/>
<rect x="202.97" y="114.70" width="12.35" height="8.25" fill="#6ba2fc"/>
<rect x="214.97" y="114.70" width="12.35" height="8.25" fill="#71a7fe"/>
<rect x="226.96" y="114.70" width="12.35" height="8.25" fill="#d30022"/>
<rect x="238.96" y="114.70" width="12.35" height="8.25" fill="#ffccb7"/>
<rect x="250.96" y="114.70" width="12.35" height="8.25" fill="#74aaff"/>
<rect x="262.95" y="114.70" width="12.35" height="8.25" fill="#77acff"/>
<rect x="274.95" y="114.70" width="12.35" height="8.25" fill="#e1262d"/>
<rect x="286.95" y="114.70" width="12.35" height="8.25" fill="#80b4ff"/>
<rect x="298.95" y="114.70" width="12.35" height="8.25" fill="#9ec8ff"/>
<rect x="310.94" y="114.70" width="12.35" height="8.25" fill="#ffffff"/>
<rect x="322.94" y="114.70" width="12.35" height="8.25" fill="#76abff"/>
<rect x="334.94" y="114.70" width="12.35" height="8.25" fill="#6ba2fc"/>
<rect x="346.93" y="114.70" width="12.35" height="8.25" fill="#6ea4fd"/>
<rect x="358.93" y="114.70" width="12.35" height="8.25" fill="#7aafff"/>
<rect x="370.93" y="114.70" width="12.35" height="8.25" fill="#ffffff"/>
<rect x="382.93" y="114.70" width="12.35" height="8.25" fill="#77acff"/>
<rect x="394.92" y="114.70" width="12.35" height="8.25" fill="#ff775a"/>
<rect x="406.92" y="114.70" width="12.35" height="8.25" fill="#6ea4fd"/>
<rect x="418.92" y="114.70" width="12.35" height="8.25" fill="#80b4ff"/>
<rect x="430.91" y="114.70" width="12.35" height="8.25" fill="#ffc2a8"/>
<rect x="442.91" y="114.70" width="12.35" height="8.25" fill="#eadad3"/>
<rect x="454.91" y="114.70" width="12.35" height="8.25" fill="#dddede"/>
<rect x="466.91" y="114.70" width="12.35" height="8.25" fill="#e6dbd6"/>
<rect x="478.90" y="114.70" width="12.35" height="8.25" fill="#4676e6"/>
<rect x="71.00" y="122.60" width="12.35" height="8.25" fill="#c1d8f3"/>
<rect x="83.00" y="122.60" width="12.35" height="8.25" fill="#71a7fe"/>
<rect x="94.99" y="122.60" width="12.35" height="8.25" fill="#74aaff"/>
<rect x="106.99" y="122.60" width="12.35" height="8.25" fill="#2e4bc5"/>
<rect x="118.99" y="122.60" width="12.35" height="8.25" fill="#659cfa"/>
<rect x="130.99" y="122.60" width="12.35" height="8.25" fill="#71a7fe"/>
<rect x="142.98" y="122.60" width="12.35" height="8.25" fill="#7aafff"/>
<rect x="154.98" y="122.60" width="12.35" height="8.25" fill="#ffffff"/>
<rect x="166.98" y="122.60" width="12.35" height="8.25" fill="#71a7fe"/>
<rect x="178.97" y="122.60" width="12.35" height="8.25" fill="#74aaff"/>
<rect x="190.97" y="122.60" width="12.35" height="8.25" fill="#6ba2fc"/>
<rect x="202.97" y="122.60" width="12.35" height="8.25" fill="#71a7fe"/>
<rect x="214.97" y="122.60" width="12.35" height="8.25" fill="#74aaff"/>
<rect x="226.96" y="122.60" width="12.35" height="8.25" fill="#ffccb7"/>
<rect x="238.96" y="122.60" width="12.35" height="8.25" fill="#d30022"/>
<rect x="250.96" y="122.60" width="12.35" height="8.25" fill="#6ea4fd"/>
<rect x="262.95" y="122.60" width="12.35" height="8.25" fill="#77acff"/>
<rect x="274.95" y="122.60" width="12.35" height="8.25" fill="#ffb99c"/>
<rect x="286.95" y="122.60" width="12.35" height="8.25" fill="#7db1ff"/>
<rect x="298.95" y="122.60" width="12.35" height="8.25" fill="#84b6ff"/>
<rect x="310.94" y="122.60" width="12.35" height="8.25" fill="#ffffff"/>
<rect x="322.94" y="122.60" width="12.35" height="8.25" fill="#6ea4fd"/>
<rect x="334.94" y="122.60" width="12.35" height="8.25" fill="#7aafff"/>
<rect x="346.93" y="122.60" width="12.35" height="8.25" fill="#77acff"/>
<rect x="358.93" y="122.60" width="12.35" height="8.25" fill="#7aafff"/>
<rect x="370.93" y="122.60" width="12.35" height="8.25" fill="#ffffff"/>
<rect x="382.93" y="122.60" width="12.35" height="8.25" fill="#6ea4fd"/>
<rect x="394.92" y="122.60" width="12.35" height="8.25" fill="#efd7cd"/>
<rect x="406.92" y="122.60" width="12.35" height="8.25" fill="#71a7fe"/>
<rect x="418.92" y="122.60" width="12.35" height="8.25" fill="#80b4ff"/>
<rect x="430.91" y="122.60" width="12.35" height="8.25" fill="#bbd5f6"/>
<rect x="442.91" y="122.60" width="12.35" height="8.25" fill="#96c3ff"/>
<rect x="454.91" y="122.60" width="12.35" height="8.25" fill="#9ec8ff"/>
<rect x="466.91" y="122.60" width="12.35" height="8.25" fill="#93c1ff"/>
<rect x="478.90" y="122.60" width="12.35" height="8.25" fill="#6299f9"/>
<rect x="71.00" y="130.50" width="12.35" height="8.25" fill="#74aaff"/>
<rect x="83.00" y="130.50" width="12.35" height="8.25" fill="#77acff"/>
<rect x="94.99" y="130.50" width="12.35" height="8.25" fill="#7db1ff"/>
<rect x="106.99" y="130.50" width="12.35" height="8.25" fill="#7aafff"/>
<rect x="118.99" y="130.50" width="12.35" height="8.25" fill="#74aaff"/>
<rect x="130.99" y="130.50" width="12.35" height="8.25" fill="#71a7fe"/>
<rect x="142.98" y="130.50" width="12.35" height="8.25" fill="#659cfa"/>
<rect x="154.98" y="130.50" width="12.35" height="8.25" fill="#ffffff"/>
<rect x="166.98" y="130.50" width="12.35" height="8.25" fill="#659cfa"/>
<rect x="178.97" y="130.50" width="12.35" height="8.25" fill="#71a7fe"/>
<rect x="190.97" y="130.50" width="12.35" height="8.25" fill="#7db1ff"/>
<rect x="202.97" y="130.50" width="12.35" height="8.25" fill="#6096f8"/>
<rect x="214.97" y="130.50" width="12.35" height="8.25" fill="#6ea4fd"/>
<rect x="226.96" y="130.50" width="12.35" height="8.25" fill="#74aaff"/>
<rect x="238.96" y="130.50" width="12.35" height="8.25" fill="#6ea4fd"/>
<rect x="250.96" y="130.50" width="12.35" height="8.25" fill="#d30022"/>
<rect x="262.95" y="130.50" width="12.35" height="8.25" fill="#76abff"/>
<rect x="274.95" y="130.50" width="12.35" height="8.25" fill="#71a7fe"/>
<rect x="286.95" y="130.50" width="12.35" height="8.25" fill="#76abff"/>
<rect x="298.95" y="130.50" width="12.35" height="8.25" fill="#6299f9"/>
<rect x="310.94" y="130.50" width="12.35" height="8.25" fill="#ffffff"/>
<rect x="322.94" y="130.50" width="12.35" height="8.25" fill="#7aafff"/>
<rect x="334.94" y="130.50" width="12.35" height="8.25" fill="#7aafff"/>
<rect x="346.93" y="130.50" width="12.35" height="8.25" fill="#76abff"/>
<rect x="358.93" y="130.50" width="12.35" height="8.25" fill="#71a7fe"/>
<rect x="370.93" y="130.50" width="12.35" height="8.25" fill="#ffffff"/>
<rect x="382.93" y="130.50" width="12.35" height="8.25" fill="#77acff"/>
<rect x="394.92" y="130.50" width="12.35" height="8.25" fill="#6ea4fd"/>
<rect x="406.92" y="130.50" width="12.35" height="8.25" fill="#71a7fe"/>
<rect x="418.92" y="130.50" width="12.35" height="8.25" fill="#6ea4fd"/>
<rect x="430.91" y="130.50" width="12.35" height="8.25" fill="#74aaff"/>
<rect x="442.91" y="130.50" width="12.35" height="8.25" fill="#74aaff"/>
<rect x="454.91" y="130.50" width="12.35" height="8.25" fill="#6ea4fd"/>
<rect x="466.91" y="130.50" width="12.35" height="8.25" fill="#6ba2fc"/>
<rect x="478.90" y="130.50" width="12.35" height="8.25" fill="#578df3"/>
<rect x="71.00" y="138.40" width="12.35" height="8.25" fill="#80b4ff"/>
<rect x="83.00" y="138.40" width="12.35" height="8.25" fill="#7aafff"/>
<rect x="94.99" y="138.40" width="12.35" height="8.25" fill="#76abff"/>
<rect x="106.99" y="138.40" width="12.35" height="8.25" fill="#7aafff"/>
<rect x="118.99" y="138.40" width="12.35" height="8.25" fill="#7aafff"/>
<rect x="130.99" y="138.40" width="12.35" height="8.25" fill="#76abff"/>
<rect x="142.98" y="138.40" width="12.35" height="8.25" fill="#7db1ff"/>
<rect x="154.98" y="138.40" width="12.35" height="8.25" fill="#ffffff"/>
<rect x="166.98" y="138.40" width="12.35" height="8.25" fill="#84b6ff"/>
<rect x="178.97" y="138.40" width="12.35" height="8.25" fill="#6ea4fd"/>
<rect x="190.97" y="138.40" width="12.35" height="8.25" fill="#6ba2fc"/>
<rect x="202.97" y="138.40" width="12.35" height="8.25" fill="#7db1ff"/>
<rect x="214.97" y="138.40" width="12.35" height="8.25" fill="#77acff"/>
<rect x="226.96" y="138.40" width="12.35" height="8.25" fill="#77acff"/>
<rect x="238.96" y="138.40" width="12.35" height="8.25" fill="#77acff"/>
<rect x="250.96" y="138.40" width="12.35" height="8.25" fill="#76abff"/>
<rect x="262.95" y="138.40" width="12.35" height="8.25" fill="#d30022"/>
<rect x="274.95" y="138.40" width="12.35" height="8.25" fill="#7aafff"/>
<rect x="286.95" y="138.40" width="12.35" height="8.25" fill="#6ea4fd"/>
<rect x="298.95" y="138.40" width="12.35" height="8.25" fill="#71a7fe"/>
<rect x="310.94" y="138.40" width="12.35" height="8.25" fill="#ffffff"/>
<rect x="322.94" y="138.40" width="12.35" height="8.25" fill="#6ea4fd"/>
<rect x="334.94" y="138.40" width="12.35" height="8.25" fill="#77acff"/>
<rect x="346.93" y="138.40" width="12.35" height="8.25" fill="#77acff"/>
<rect x="358.93" y="138.40" width="12.35" height="8.25" fill="#71a7fe"/>
<rect x="370.93" y="138.40" width="12.35" height="8.25" fill="#ffffff"/>
<rect x="382.93" y="138.40" width="12.35" height="8.25" fill="#5a90f5"/>
<rect x="394.92" y="138.40" width="12.35" height="8.25" fill="#77acff"/>
<rect x="406.92" y="138.40" width="12.35" height="8.25" fill="#6ea4fd"/>
<rect x="418.92" y="138.40" width="12.35" height="8.25" fill="#76abff"/>
<rect x="430.91" y="138.40" width="12.35" height="8.25" fill="#77acff"/>
<rect x="442.91" y="138.40" width="12.35" height="8.25" fill="#7db1ff"/>
<rect x="454.91" y="138.40" width="12.35" height="8.25" fill="#80b4ff"/>
<rect x="466.91" y="138.40" width="12.35" height="8.25" fill="#77acff"/>
<rect x="478.90" y="138.40" width="12.35" height="8.25" fill="#71a7fe"/>
<rect x="71.00" y="146.30" width="12.35" height="8.25" fill="#ffc8b1"/>
<rect x="83.00" y="146.30" width="12.35" height="8.25" fill="#71a7fe"/>
<rect x="94.99" y="146.30" width="12.35" height="8.25" fill="#76abff"/>
<rect x="106.99" y="146.30" width="12.35" height="8.25" fill="#84b6ff"/>
<rect x="118.99" y="146.30" width="12.35" height="8.25" fill="#6ea4fd"/>
<rect x="130.99" y="146.30" width="12.35" height="8.25" fill="#90bfff"/>
<rect x="142.98" y="146.30" width="12.35" height="8.25" fill="#77acff"/>
<rect x="154.98" y="146.30" width="12.35" height="8.25" fill="#ffffff"/>
<rect x="166.98" y="146.30" width="12.35" height="8.25" fill="#71a7fe"/>
<rect x="178.97" y="146.30" width="12.35" height="8.25" fill="#71a7fe"/>
<rect x="190.97" y="146.30" width="12.35" height="8.25" fill="#6ba2fc"/>
<rect x="202.97" y="146.30" width="12.35" height="8.25" fill="#6ea4fd"/>
<rect x="214.97" y="146.30" width="12.35" height="8.25" fill="#6ea4fd"/>
<rect x="226.96" y="146.30" width="12.35" height="8.25" fill="#e1262d"/>
<rect x="238.96" y="146.30" width="12.35" height="8.25" fill="#ffb99c"/>
<rect x="250.96" y="146.30" width="12.35" height="8.25" fill="#71a7fe"/>
<rect x="262.95" y="146.30" width="12.35" height="8.25" fill="#7aafff"/>
<rect x="274.95" y="146.30" width="12.35" height="8.25" fill="#d30022"/>
<rect x="286.95" y="146.30" width="12.35" height="8.25" fill="#7db1ff"/>
<rect x="298.95" y="146.30" width="12.35" height="8.25" fill="#a2caff"/>
<rect x="310.94" y="146.30" width="12.35" height="8.25" fill="#ffffff"/>
<rect x="322.94" y="146.30" width="12.35" height="8.25" fill="#76abff"/>
<rect x="334.94" y="146.30" width="12.35" height="8.25" fill="#6ba2fc"/>
<rect x="346.93" y="146.30" width="12.35" height="8.25" fill="#6ea4fd"/>
<rect x="358.93" y="146.30" width="12.35" height="8.25" fill="#7db1ff"/>
<rect x="370.93" y="146.30" width="12.35" height="8.25" fill="#ffffff"/>
<rect x="382.93" y="146.30" width="12.35" height="8.25" fill="#76abff"/>
<rect x="394.92" y="146.30" width="12.35" height="8.25" fill="#ff7a5d"/>
<rect x="406.92" y="146.30" width="12.35" height="8.25" fill="#6ea4fd"/>
<rect x="418.92" y="146.30" width="12.35" height="8.25" fill="#7db1ff"/>
<rect x="430.91" y="146.30" width="12.35" height="8.25" fill="#ffc6ae"/>
<rect x="442.91" y="146.30" width="12.35" height="8.25" fill="#e0dddb"/>
<rect x="454.91" y="146.30" width="12.35" height="8.25" fill="#dadde1"/>
<rect x="466.91" y="146.30" width="12.35" height="8.25" fill="#dadde1"/>
<rect x="478.90" y="146.30" width="12.35" height="8.25" fill="#4879e8"/>
<rect x="71.00" y="154.20" width="12.35" height="8.25" fill="#7db1ff"/>
<rect x="83.00" y="154.20" width="12.35" height="8.25" fill="#71a7fe"/>
<rect x="94.99" y="154.20" width="12.35" height="8.25" fill="#6ba2fc"/>
<rect x="106.99" y="154.20" width="12.35" height="8.25" fill="#7aafff"/>
<rect x="118.99" y="154.20" width="12.35" height="8.25" fill="#7db1ff"/>
<rect x="130.99" y="154.20" width="12.35" height="8.25" fill="#6ba2fc"/>
<rect x="142.98" y="154.20" width="12.35" height="8.25" fill="#76abff"/>
<rect x="154.98" y="154.20" width="12.35" height="8.25" fill="#ffffff"/>
<rect x="166.98" y="154.20" width="12.35" height="8.25" fill="#77acff"/>
<rect x="178.97" y="154.20" width="12.35" height="8.25" fill="#80b4ff"/>
<rect x="190.97" y="154.20" width="12.35" height="8.25" fill="#689ffb"/>
<rect x="202.97" y="154.20" width="12.35" height="8.25" fill="#6ea4fd"/>
<rect x="214.97" y="154.20" width="12.35" height="8.25" fill="#6ea4fd"/>
<rect x="226.96" y="154.20" width="12.35" height="8.25" fill="#80b4ff"/>
<rect x="238.96" y="154.20" width="12.35" height="8.25" fill="#7db1ff"/>
<rect x="250.96" y="154.20" width="12.35" height="8.25" fill="#76abff"/>
<rect x="262.95" y="154.20" width="12.35" height="8.25" fill="#6ea4fd"/>
<rect x="274.95" y="154.20" width="12.35" height="8.25" fill="#7db1ff"/>
<rect x="286.95" y="154.20" width="12.35" height="8.25" fill="#d30022"/>
<rect x="298.95" y="154.20" width="12.35" height="8.25" fill="#7aafff"/>
<rect x="310.94" y="154.20" width="12.35" height="8.25" fill="#ffffff"/>
<rect x="322.94" y="154.20" width="12.35" height="8.25" fill="#7aafff"/>
<rect x="334.94" y="154.20" width="12.35" height="8.25" fill="#71a7fe"/>
<rect x="346.93" y="154.20" width="12.35" height="8.25" fill="#71a7fe"/>
<rect x="358.93" y="154.20" width="12.35" height="8.25" fill="#74aaff"/>
<rect x="370.93" y="154.20" width="12.35" height="8.25" fill="#ffffff"/>
<rect x="382.93" y="154.20" width="12.35" height="8.25" fill="#6ba2fc"/>
<rect x="394.92" y="154.20" width="12.35" height="8.25" fill="#7db1ff"/>
<rect x="406.92" y="154.20" width="12.35" height="8.25" fill="#76abff"/>
<rect x="418.92" y="154.20" width="12.35" height="8.25" fill="#77acff"/>
<rect x="430.91" y="154.20" width="12.35" height="8.25" fill="#6ea4fd"/>
<rect x="442.91" y="154.20" width="12.35" height="8.25" fill="#71a7fe"/>
<rect x="454.91" y="154.20" width="12.35" height="8.25" fill="#76abff"/>
<rect x="466.91" y="154.20" width="12.35" height="8.25" fill="#689ffb"/>
<rect x="478.90" y="154.20" width="12.35" height="8.25" fill="#7aafff"/>
<rect x="71.00" y="162.10" width="12.35" height="8.25" fill="#cfdbe9"/>
<rect x="83.00" y="162.10" width="12.35" height="8.25" fill="#71a7fe"/>
<rect x="94.99" y="162.10" width="12.35" height="8.25" fill="#80b4ff"/>
<rect x="106.99" y="162.10" width="12.35" height="8.25" fill="#689ffb"/>
<rect x="118.99" y="162.10" width="12.35" height="8.25" fill="#6ba2fc"/>
<rect x="130.99" y="162.10" width="12.35" height="8.25" fill="#9dc7ff"/>
<rect x="142.98" y="162.10" width="12.35" height="8.25" fill="#76abff"/>
<rect x="154.98" y="162.10" width="12.35" height="8.25" fill="#ffffff"/>
<rect x="166.98" y="162.10" width="12.35" height="8.25" fill="#74aaff"/>
<rect x="178.97" y="162.10" width="12.35" height="8.25" fill="#77acff"/>
<rect x="190.97" y="162.10" width="12.35" height="8.25" fill="#689ffb"/>
<rect x="202.97" y="162.10" width="12.35" height="8.25" fill="#7aafff"/>
<rect x="214.97" y="162.10" width="12.35" height="8.25" fill="#7aafff"/>
<rect x="226.96" y="162.10" width="12.35" height="8.25" fill="#9ec8ff"/>
<rect x="238.96" y="162.10" width="12.35" height="8.25" fill="#84b6ff"/>
<rect x="250.96" y="162.10" width="12.35" height="8.25" fill="#6299f9"/>
<rect x="262.95" y="162.10" width="12.35" height="8.25" fill="#71a7fe"/>
<rect x="274.95" y="162.10" width="12.35" height="8.25" fill="#a2caff"/>
<rect x="286.95" y="162.10" width="12.35" height="8.25" fill="#7aafff"/>
<rect x="298.95" y="162.10" width="12.35" height="8.25" fill="#d30022"/>
<rect x="310.94" y="162.10" width="12.35" height="8.25" fill="#ffffff"/>
<rect x="322.94" y="162.10" width="12.35" height="8.25" fill="#6ea4fd"/>
<rect x="334.94" y="162.10" width="12.35" height="8.25" fill="#71a7fe"/>
<rect x="346.93" y="162.10" width="12.35" height="8.25" fill="#71a7fe"/>
<rect x="358.93" y="162.10" width="12.35" height="8.25" fill="#84b6ff"/>
<rect x="370.93" y="162.10" width="12.35" height="8.25" fill="#ffffff"/>
<rect x="382.93" y="162.10" width="12.35" height="8.25" fill="#7db1ff"/>
<rect x="394.92" y="162.10" width="12.35" height="8.25" fill="#bed7f4"/>
<rect x="406.92" y="162.10" width="12.35" height="8.25" fill="#6096f8"/>
<rect x="418.92" y="162.10" width="12.35" height="8.25" fill="#71a7fe"/>
<rect x="430.91" y="162.10" width="12.35" height="8.25" fill="#5286f0"/>
<rect x="442.91" y="162.10" width="12.35" height="8.25" fill="#5a90f5"/>
<rect x="454.91" y="162.10" width="12.35" height="8.25" fill="#689ffb"/>
<rect x="466.91" y="162.10" width="12.35" height="8.25" fill="#558af1"/>
<rect x="478.90" y="162.10" width="12.35" height="8.25" fill="#80b4ff"/>
<rect x="71.00" y="170.00" width="12.35" height="8.25" fill="#ffffff"/>
<rect x="83.00" y="170.00" width="12.35" height="8.25" fill="#ffffff"/>
<rect x="94.99" y="170.00" width="12.35" height="8.25" fill="#ffffff"/>
<rect x="106.99" y="170.00" width="12.35" height="8.25" fill="#ffffff"/>
<rect x="118.99" y="170.00" width="12.35" height="8.25" fill="#ffffff"/>
<rect x="130.99" y="170.00" width="12.35" height="8.25" fill="#ffffff"/>
<rect x="142.98" y="170.00" width="12.35" height="8.25" fill="#ffffff"/>
<rect x="154.98" y="170.00" width="12.35" height="8.25" fill="#ffffff"/>
<rect x="166.98" y="170.00" width="12.35" height="8.25" fill="#ffffff"/>
<rect x="178.97" y="170.00" width="12.35" height="8.25" fill="#ffffff"/>
<rect x="190.97" y="170.00" width="12.35" height="8.25" fill="#ffffff"/>
<rect x="202.97" y="170.00" width="12.35" height="8.25" fill="#ffffff"/>
<rect x="214.97" y="170.00" width="12.35" height="8.25" fill="#ffffff"/>
<rect x="226.96" y="170.00" width="12.35" height="8.25" fill="#ffffff"/>
<rect x="238.96" y="170.00" width="12.35" height="8.25" fill="#ffffff"/>
<rect x="250.96" y="170.00" width="12.35" height="8.25" fill="#ffffff"/>
<rect x="262.95" y="170.00" width="12.35" height="8.25" fill="#ffffff"/>
<rect x="274.95" y="170.00" width="12.35" height="8.25" fill="#ffffff"/>
<rect x="286.95" y="170.00" width="12.35" height="8.25" fill="#ffffff"/>
<rect x="298.95" y="170.00" width="12.35" height="8.25" fill="#ffffff"/>
<rect x="310.94" y="170.00" width="12.35" height="8.25" fill="#ffffff"/>
<rect x="322.94" y="170.00" width="12.35" height="8.25" fill="#ffffff"/>
<rect x="334.94" y="170.00" width="12.35" height="8.25" fill="#ffffff"/>
<rect x="346.93" y="170.00" width="12.35" height="8.25" fill="#ffffff"/>
<rect x="358.93" y="170.00" width="12.35" height="8.25" fill="#ffffff"/>
<rect x="370.93" y="170.00" width="12.35" height="8.25" fill="#ffffff"/>
<rect x="382.93" y="170.00" width="12.35" height="8.25" fill="#ffffff"/>
<rect x="394.92" y="170.00" width="12.35" height="8.25" fill="#ffffff"/>
<rect x="406.92" y="170.00" width="12.35" height="8.25" fill="#ffffff"/>
<rect x="418.92" y="170.00" width="12.35" height="8.25" fill="#ffffff"/>
<rect x="430.91" y="170.00" width="12.35" height="8.25" fill="#ffffff"/>
<rect x="442.91" y="170.00" width="12.35" height="8.25" fill="#ffffff"/>
<rect x="454.91" y="170.00" width="12.35" height="8.25" fill="#ffffff"/>
<rect x="466.91" y="170.00" width="12.35" height="8.25" fill="#ffffff"/>
<rect x="478.90" y="170.00" width="12.35" height="8.25" fill="#ffffff"/>
<rect x="71.00" y="177.90" width="12.35" height="8.25" fill="#7db1ff"/>
<rect x="83.00" y="177.90" width="12.35" height="8.25" fill="#80b4ff"/>
<rect x="94.99" y="177.90" width="12.35" height="8.25" fill="#77acff"/>
<rect x="106.99" y="177.90" width="12.35" height="8.25" fill="#76abff"/>
<rect x="118.99" y="177.90" width="12.35" height="8.25" fill="#7db1ff"/>
<rect x="130.99" y="177.90" width="12.35" height="8.25" fill="#6ea4fd"/>
<rect x="142.98" y="177.90" width="12.35" height="8.25" fill="#71a7fe"/>
<rect x="154.98" y="177.90" width="12.35" height="8.25" fill="#ffffff"/>
<rect x="166.98" y="177.90" width="12.35" height="8.25" fill="#6ea4fd"/>
<rect x="178.97" y="177.90" width="12.35" height="8.25" fill="#8abbff"/>
<rect x="190.97" y="177.90" width="12.35" height="8.25" fill="#689ffb"/>
<rect x="202.97" y="177.90" width="12.35" height="8.25" fill="#71a7fe"/>
<rect x="214.97" y="177.90" width="12.35" height="8.25" fill="#74aaff"/>
<rect x="226.96" y="177.90" width="12.35" height="8.25" fill="#76abff"/>
<rect x="238.96" y="177.90" width="12.35" height="8.25" fill="#6ea4fd"/>
<rect x="250.96" y="177.90" width="12.35" height="8.25" fill="#7aafff"/>
<rect x="262.95" y="177.90" width="12.35" height="8.25" fill="#6ea4fd"/>
<rect x="274.95" y="177.90" width="12.35" height="8.25" fill="#76abff"/>
<rect x="286.95" y="177.90" width="12.35" height="8.25" fill="#7aafff"/>
<rect x="298.95" y="177.90" width="12.35" height="8.25" fill="#6ea4fd"/>
<rect x="310.94" y="177.90" width="12.35" height="8.25" fill="#ffffff"/>
<rect x="322.94" y="177.90" width="12.35" height="8.25" fill="#d30022"/>
<rect x="334.94" y="177.90" width="12.35" height="8.25" fill="#71a7fe"/>
<rect x="346.93" y="177.90" width="12.35" height="8.25" fill="#76abff"/>
<rect x="358.93" y="177.90" width="12.35" height="8.25" fill="#84b6ff"/>
<rect x="370.93" y="177.90" width="12.35" height="8.25" fill="#ffffff"/>
<rect x="382.93" y="177.90" width="12.35" height="8.25" fill="#74aaff"/>
<rect x="394.92" y="177.90" width="12.35" height="8.25" fill="#77acff"/>
<rect x="406.92" y="177.90" width="12.35" height="8.25" fill="#5d93f6"/>
<rect x="418.92" y="177.90" width="12.35" height="8.25" fill="#6ba2fc"/>
<rect x="430.91" y="177.90" width="12.35" height="8.25" fill="#71a7fe"/>
<rect x="442.91" y="177.90" width="12.35" height="8.25" fill="#6ba2fc"/>
<rect x="454.91" y="177.90" width="12.35" height="8.25" fill="#71a7fe"/>
<rect x="466.91" y="177.90" width="12.35" height="8.25" fill="#689ffb"/>
<rect x="478.90" y="177.90" width="12.35" height="8.25" fill="#c1d8f3"/>
<rect x="71.00" y="185.80" width="12.35" height="8.25" fill="#76abff"/>
<rect x="83.00" y="185.80" width="12.35" height="8.25" fill="#6ba2fc"/>
<rect x="94.99" y="185.80" width="12.35" height="8.25" fill="#7aafff"/>
<rect x="106.99" y="185.80" width="12.35" height="8.25" fill="#71a7fe"/>
<rect x="118.99" y="185.80" width="12.35" height="8.25" fill="#80b4ff"/>
<rect x="130.99" y="185.80" width="12.35" height="8.25" fill="#71a7fe"/>
<rect x="142.98" y="185.80" width="12.35" height="8.25" fill="#659cfa"/>
<rect x="154.98" y="185.80" width="12.35" height="8.25" fill="#ffffff"/>
<rect x="166.98" y="185.80" width="12.35" height="8.25" fill="#71a7fe"/>
<rect x="178.97" y="185.80" width="12.35" height="8.25" fill="#6ba2fc"/>
<rect x="190.97" y="185.80" width="12.35" height="8.25" fill="#76abff"/>
<rect x="202.97" y="185.80" width="12.35" height="8.25" fill="#71a7fe"/>
<rect x="214.97" y="185.80" width="12.35" height="8.25" fill="#6ea4fd"/>
<rect x="226.96" y="185.80" width="12.35" height="8.25" fill="#6ba2fc"/>
<rect x="238.96" y="185.80" width="12.35" height="8.25" fill="#7aafff"/>
<rect x="250.96" y="185.80" width="12.35" height="8.25" fill="#7aafff"/>
<rect x="262.95" y="185.80" width="12.35" height="8.25" fill="#77acff"/>
<rect x="274.95" y="185.80" width="12.35" height="8.25" fill="#6ba2fc"/>
<rect x="286.95" y="185.80" width="12.35" height="8.25" fill="#71a7fe"/>
<rect x="298.95" y="185.80" width="12.35" height="8.25" fill="#71a7fe"/>
<rect x="310.94" y="185.80" width="12.35" height="8.25" fill="#ffffff"/>
<rect x="322.94" y="185.80" width="12.35" height="8.25" fill="#71a7fe"/>
<rect x="334.94" y="185.80" width="12.35" height="8.25" fill="#d30022"/>
<rect x="346.93" y="185.80" width="12.35" height="8.25" fill="#ff7a5d"/>
<rect x="358.93" y="185.80" width="12.35" height="8.25" fill="#689ffb"/>
<rect x="370.93" y="185.80" width="12.35" height="8.25" fill="#ffffff"/>
<rect x="382.93" y="185.80" width="12.35" height="8.25" fill="#76abff"/>
<rect x="394.92" y="185.80" width="12.35" height="8.25" fill="#6ea4fd"/>
<rect x="406.92" y="185.80" width="12.35" height="8.25" fill="#71a7fe"/>
<rect x="418.92" y="185.80" width="12.35" height="8.25" fill="#74aaff"/>
<rect x="430.91" y="185.80" width="12.35" height="8.25" fill="#689ffb"/>
<rect x="442.91" y="185.80" width="12.35" height="8.25" fill="#74aaff"/>
<rect x="454.91" y="185.80" width="12.35" height="8.25" fill="#6ea4fd"/>
<rect x="466.91" y="185.80" width="12.35" height="8.25" fill="#71a7fe"/>
<rect x="478.90" y="185.80" width="12.35" height="8.25" fill="#71a7fe"/>
<rect x="71.00" y="193.70" width="12.35" height="8.25" fill="#76abff"/>
<rect x="83.00" y="193.70" width="12.35" height="8.25" fill="#74aaff"/>
<rect x="94.99" y="193.70" width="12.35" height="8.25" fill="#76abff"/>
<rect x="106.99" y="193.70" width="12.35" height="8.25" fill="#6ea4fd"/>
<rect x="118.99" y="193.70" width="12.35" height="8.25" fill="#7db1ff"/>
<rect x="130.99" y="193.70" width="12.35" height="8.25" fill="#6ea4fd"/>
<rect x="142.98" y="193.70" width="12.35" height="8.25" fill="#6ba2fc"/>
<rect x="154.98" y="193.70" width="12.35" height="8.25" fill="#ffffff"/>
<rect x="166.98" y="193.70" width="12.35" height="8.25" fill="#6ea4fd"/>
<rect x="178.97" y="193.70" width="12.35" height="8.25" fill="#6ba2fc"/>
<rect x="190.97" y="193.70" width="12.35" height="8.25" fill="#71a7fe"/>
<rect x="202.97" y="193.70" width="12.35" height="8.25" fill="#74aaff"/>
<rect x="214.97" y="193.70" width="12.35" height="8.25" fill="#6ba2fc"/>
<rect x="226.96" y="193.70" width="12.35" height="8.25" fill="#6ea4fd"/>
<rect x="238.96" y="193.70" width="12.35" height="8.25" fill="#77acff"/>
<rect x="250.96" y="193.70" width="12.35" height="8.25" fill="#76abff"/>
<rect x="262.95" y="193.70" width="12.35" height="8.25" fill="#77acff"/>
<rect x="274.95" y="193.70" width="12.35" height="8.25" fill="#6ea4fd"/>
<rect x="286.95" y="193.70" width="12.35" height="8.25" fill="#71a7fe"/>
<rect x="298.95" y="193.70" width="12.35" height="8.25" fill="#71a7fe"/>
<rect x="310.94" y="193.70" width="12.35" height="8.25" fill="#ffffff"/>
<rect x="322.94" y="193.70" width="12.35" height="8.25" fill="#76abff"/>
<rect x="334.94" y="193.70" width="12.35" height="8.25" fill="#ff7a5d"/>
<rect x="346.93" y="193.70" width="12.35" height="8.25" fill="#d30022"/>
<rect x="358.93" y="193.70" width="12.35" height="8.25" fill="#6ba2fc"/>
<rect x="370.93" y="193.70" width="12.35" height="8.25" fill="#ffffff"/>
<rect x="382.93" y="193.70" width="12.35" height="8.25" fill="#76abff"/>
<rect x="394.92" y="193.70" width="12.35" height="8.25" fill="#77acff"/>
<rect x="406.92" y="193.70" width="12.35" height="8.25" fill="#6ea4fd"/>
<rect x="418.92" y="193.70" width="12.35" height="8.25" fill="#76abff"/>
<rect x="430.91" y="193.70" width="12.35" height="8.25" fill="#76abff"/>
<rect x="442.91" y="193.70" width="12.35" height="8.25" fill="#7db1ff"/>
<rect x="454.91" y="193.70" width="12.35" height="8.25" fill="#7aafff"/>
<rect x="466.91" y="193.70" width="12.35" height="8.25" fill="#7aafff"/>
<rect x="478.90" y="193.70" width="12.35" height="8.25" fill="#76abff"/>
<rect x="71.00" y="201.60" width="12.35" height="8.25" fill="#84b6ff"/>
<rect x="83.00" y="201.60" width="12.35" height="8.25" fill="#77acff"/>
<rect x="94.99" y="201.60" width="12.35" height="8.25" fill="#76abff"/>
<rect x="106.99" y="201.60" width="12.35" height="8.25" fill="#6ea4fd"/>
<rect x="118.99" y="201.60" width="12.35" height="8.25" fill="#76abff"/>
<rect x="130.99" y="201.60" width="12.35" height="8.25" fill="#71a7fe"/>
<rect x="142.98" y="201.60" width="12.35" height="8.25" fill="#7aafff"/>
<rect x="154.98" y="201.60" width="12.35" height="8.25" fill="#ffffff"/>
<rect x="166.98" y="201.60" width="12.35" height="8.25" fill="#6096f8"/>
<rect x="178.97" y="201.60" width="12.35" height="8.25" fill="#76abff"/>
<rect x="190.97" y="201.60" width="12.35" height="8.25" fill="#7aafff"/>
<rect x="202.97" y="201.60" width="12.35" height="8.25" fill="#76abff"/>
<rect x="214.97" y="201.60" width="12.35" height="8.25" fill="#7db1ff"/>
<rect x="226.96" y="201.60" width="12.35" height="8.25" fill="#7aafff"/>
<rect x="238.96" y="201.60" width="12.35" height="8.25" fill="#7aafff"/>
<rect x="250.96" y="201.60" width="12.35" height="8.25" fill="#71a7fe"/>
<rect x="262.95" y="201.60" width="12.35" height="8.25" fill="#71a7fe"/>
<rect x="274.95" y="201.60" width="12.35" height="8.25" fill="#7db1ff"/>
<rect x="286.95" y="201.60" width="12.35" height="8.25" fill="#74aaff"/>
<rect x="298.95" y="201.60" width="12.35" height="8.25" fill="#84b6ff"/>
<rect x="310.94" y="201.60" width="12.35" height="8.25" fill="#ffffff"/>
<rect x="322.94" y="201.60" width="12.35" height="8.25" fill="#84b6ff"/>
<rect x="334.94" y="201.60" width="12.35" height="8.25" fill="#689ffb"/>
<rect x="346.93" y="201.60" width="12.35" height="8.25" fill="#6ba2fc"/>
<rect x="358.93" y="201.60" width="12.35" height="8.25" fill="#d30022"/>
<rect x="370.93" y="201.60" width="12.35" height="8.25" fill="#ffffff"/>
<rect x="382.93" y="201.60" width="12.35" height="8.25" fill="#659cfa"/>
<rect x="394.92" y="201.60" width="12.35" height="8.25" fill="#7aafff"/>
<rect x="406.92" y="201.60" width="12.35" height="8.25" fill="#76abff"/>
<rect x="418.92" y="201.60" width="12.35" height="8.25" fill="#7aafff"/>
<rect x="430.91" y="201.60" width="12.35" height="8.25" fill="#7aafff"/>
<rect x="442.91" y="201.60" width="12.35" height="8.25" fill="#6ea4fd"/>
<rect x="454.91" y="201.60" width="12.35" height="8.25" fill="#7db1ff"/>
<rect x="466.91" y="201.60" width="12.35" height="8.25" fill="#74aaff"/>
<rect x="478.90" y="201.60" width="12.35" height="8.25" fill="#659cfa"/>
<rect x="71.00" y="209.50" width="12.35" height="8.25" fill="#ffffff"/>
<rect x="83.00" y="209.50" width="12.35" height="8.25" fill="#ffffff"/>
<rect x="94.99" y="209.50" width="12.35" height="8.25" fill="#ffffff"/>
<rect x="106.99" y="209.50" width="12.35" height="8.25" fill="#ffffff"/>
<rect x="118.99" y="209.50" width="12.35" height="8.25" fill="#ffffff"/>
<rect x="130.99" y="209.50" width="12.35" height="8.25" fill="#ffffff"/>
<rect x="142.98" y="209.50" width="12.35" height="8.25" fill="#ffffff"/>
<rect x="154.98" y="209.50" width="12.35" height="8.25" fill="#ffffff"/>
<rect x="166.98" y="209.50" width="12.35" height="8.25" fill="#ffffff"/>
<rect x="178.97" y="209.50" width="12.35" height="8.25" fill="#ffffff"/>
<rect x="190.97" y="209.50" width="12.35" height="8.25" fill="#ffffff"/>
<rect x="202.97" y="209.50" width="12.35" height="8.25" fill="#ffffff"/>
<rect x="214.97" y="209.50" width="12.35" height="8.25" fill="#ffffff"/>
<rect x="226.96" y="209.50" width="12.35" height="8.25" fill="#ffffff"/>
<rect x="238.96" y="209.50" width="12.35" height="8.25" fill="#ffffff"/>
<rect x="250.96" y="209.50" width="12.35" height="8.25" fill="#ffffff"/>
<rect x="262.95" y="209.50" width="12.35" height="8.25" fill="#ffffff"/>
<rect x="274.95" y="209.50" width="12.35" height="8.25" fill="#ffffff"/>
<rect x="286.95" y="209.50" width="12.35" height="8.25" fill="#ffffff"/>
<rect x="298.95" y="209.50" width="12.35" height="8.25" fill="#ffffff"/>
<rect x="310.94" y="209.50" width="12.35" height="8.25" fill="#ffffff"/>
<rect x="322.94" y="209.50" width="12.35" height="8.25" fill="#ffffff"/>
<rect x="334.94" y="209.50" width="12.35" height="8.25" fill="#ffffff"/>
<rect x="346.93" y="209.50" width="12.35" height="8.25" fill="#ffffff"/>
<rect x="358.93" y="209.50" width="12.35" height="8.25" fill="#ffffff"/>
<rect x="370.93" y="209.50" width="12.35" height="8.25" fill="#ffffff"/>
<rect x="382.93" y="209.50" width="12.35" height="8.25" fill="#ffffff"/>
<rect x="394.92" y="209.50" width="12.35" height="8.25" fill="#ffffff"/>
<rect x="406.92" y="209.50" width="12.35" height="8.25" fill="#ffffff"/>
<rect x="418.92" y="209.50" width="12.35" height="8.25" fill="#ffffff"/>
<rect x="430.91" y="209.50" width="12.35" height="8.25" fill="#ffffff"/>
<rect x="442.91" y="209.50" width="12.35" height="8.25" fill="#ffffff"/>
<rect x="454.91" y="209.50" width="12.35" height="8.25" fill="#ffffff"/>
<rect x="466.91" y="209.50" width="12.35" height="8.25" fill="#ffffff"/>
<rect x="478.90" y="209.50" width="12.35" height="8.25" fill="#ffffff"/>
<rect x="71.00" y="217.40" width="12.35" height="8.25" fill="#80b4ff"/>
<rect x="83.00" y="217.40" width="12.35" height="8.25" fill="#6ba2fc"/>
<rect x="94.99" y="217.40" width="12.35" height="8.25" fill="#80b4ff"/>
<rect x="106.99" y="217.40" width="12.35" height="8.25" fill="#71a7fe"/>
<rect x="118.99" y="217.40" width="12.35" height="8.25" fill="#80b4ff"/>
<rect x="130.99" y="217.40" width="12.35" height="8.25" fill="#7aafff"/>
<rect x="142.98" y="217.40" width="12.35" height="8.25" fill="#7db1ff"/>
<rect x="154.98" y="217.40" width="12.35" height="8.25" fill="#ffffff"/>
<rect x="166.98" y="217.40" width="12.35" height="8.25" fill="#87b9ff"/>
<rect x="178.97" y="217.40" width="12.35" height="8.25" fill="#76abff"/>
<rect x="190.97" y="217.40" width="12.35" height="8.25" fill="#77acff"/>
<rect x="202.97" y="217.40" width="12.35" height="8.25" fill="#84b6ff"/>
<rect x="214.97" y="217.40" width="12.35" height="8.25" fill="#7aafff"/>
<rect x="226.96" y="217.40" width="12.35" height="8.25" fill="#77acff"/>
<rect x="238.96" y="217.40" width="12.35" height="8.25" fill="#6ea4fd"/>
<rect x="250.96" y="217.40" width="12.35" height="8.25" fill="#77acff"/>
<rect x="262.95" y="217.40" width="12.35" height="8.25" fill="#5a90f5"/>
<rect x="274.95" y="217.40" width="12.35" height="8.25" fill="#76abff"/>
<rect x="286.95" y="217.40" width="12.35" height="8.25" fill="#6ba2fc"/>
<rect x="298.95" y="217.40" width="12.35" height="8.25" fill="#7db1ff"/>
<rect x="310.94" y="217.40" width="12.35" height="8.25" fill="#ffffff"/>
<rect x="322.94" y="217.40" width="12.35" height="8.25" fill="#74aaff"/>
<rect x="334.94" y="217.40" width="12.35" height="8.25" fill="#76abff"/>
<rect x="346.93" y="217.40" width="12.35" height="8.25" fill="#76abff"/>
<rect x="358.93" y="217.40" width="12.35" height="8.25" fill="#659cfa"/>
<rect x="370.93" y="217.40" width="12.35" height="8.25" fill="#ffffff"/>
<rect x="382.93" y="217.40" width="12.35" height="8.25" fill="#d30022"/>
<rect x="394.92" y="217.40" width="12.35" height="8.25" fill="#77acff"/>
<rect x="406.92" y="217.40" width="12.35" height="8.25" fill="#77acff"/>
<rect x="418.92" y="217.40" width="12.35" height="8.25" fill="#76abff"/>
<rect x="430.91" y="217.40" width="12.35" height="8.25" fill="#7aafff"/>
<rect x="442.91" y="217.40" width="12.35" height="8.25" fill="#84b6ff"/>
<rect x="454.91" y="217.40" width="12.35" height="8.25" fill="#77acff"/>
<rect x="466.91" y="217.40" width="12.35" height="8.25" fill="#7aafff"/>
<rect x="478.90" y="217.40" width="12.35" height="8.25" fill="#4d80ec"/>
<rect x="71.00" y="225.30" width="12.35" height="8.25" fill="#ff9a79"/>
<rect x="83.00" y="225.30" width="12.35" height="8.25" fill="#77acff"/>
<rect x="94.99" y="225.30" width="12.35" height="8.25" fill="#77acff"/>
<rect x="106.99" y="225.30" width="12.35" height="8.25" fill="#6ea4fd"/>
<rect x="118.99" y="225.30" width="12.35" height="8.25" fill="#76abff"/>
<rect x="130.99" y="225.30" width="12.35" height="8.25" fill="#a2caff"/>
<rect x="142.98" y="225.30" width="12.35" height="8.25" fill="#76abff"/>
<rect x="154.98" y="225.30" width="12.35" height="8.25" fill="#ffffff"/>
<rect x="166.98" y="225.30" width="12.35" height="8.25" fill="#71a7fe"/>
<rect x="178.97" y="225.30" width="12.35" height="8.25" fill="#74aaff"/>
<rect x="190.97" y="225.30" width="12.35" height="8.25" fill="#659cfa"/>
<rect x="202.97" y="225.30" width="12.35" height="8.25" fill="#74aaff"/>
<rect x="214.97" y="225.30" width="12.35" height="8.25" fill="#71a7fe"/>
<rect x="226.96" y="225.30" width="12.35" height="8.25" fill="#ff775a"/>
<rect x="238.96" y="225.30" width="12.35" height="8.25" fill="#efd7cd"/>
<rect x="250.96" y="225.30" width="12.35" height="8.25" fill="#6ea4fd"/>
<rect x="262.95" y="225.30" width="12.35" height="8.25" fill="#77acff"/>
<rect x="274.95" y="225.30" width="12.35" height="8.25" fill="#ff7a5d"/>
<rect x="286.95" y="225.30" width="12.35" height="8.25" fill="#7db1ff"/>
<rect x="298.95" y="225.30" width="12.35" height="8.25" fill="#bed7f4"/>
<rect x="310.94" y="225.30" width="12.35" height="8.25" fill="#ffffff"/>
<rect x="322.94" y="225.30" width="12.35" height="8.25" fill="#77acff"/>
<rect x="334.94" y="225.30" width="12.35" height="8.25" fill="#6ea4fd"/>
<rect x="346.93" y="225.30" width="12.35" height="8.25" fill="#77acff"/>
<rect x="358.93" y="225.30" width="12.35" height="8.25" fill="#7aafff"/>
<rect x="370.93" y="225.30" width="12.35" height="8.25" fill="#ffffff"/>
<rect x="382.93" y="225.30" width="12.35" height="8.25" fill="#77acff"/>
<rect x="394.92" y="225.30" width="12.35" height="8.25" fill="#d30022"/>
<rect x="406.92" y="225.30" width="12.35" height="8.25" fill="#689ffb"/>
<rect x="418.92" y="225.30" width="12.35" height="8.25" fill="#76abff"/>
<rect x="430.91" y="225.30" width="12.35" height="8.25" fill="#ffa989"/>
<rect x="442.91" y="225.30" width="12.35" height="8.25" fill="#fbcfbe"/>
<rect x="454.91" y="225.30" width="12.35" height="8.25" fill="#ecd8d0"/>
<rect x="466.91" y="225.30" width="12.35" height="8.25" fill="#fbcfbe"/>
<rect x="478.90" y="225.30" width="12.35" height="8.25" fill="#4676e6"/>
<rect x="71.00" y="233.20" width="12.35" height="8.25" fill="#6ea4fd"/>
<rect x="83.00" y="233.20" width="12.35" height="8.25" fill="#7aafff"/>
<rect x="94.99" y="233.20" width="12.35" height="8.25" fill="#76abff"/>
<rect x="106.99" y="233.20" width="12.35" height="8.25" fill="#80b4ff"/>
<rect x="118.99" y="233.20" width="12.35" height="8.25" fill="#689ffb"/>
<rect x="130.99" y="233.20" width="12.35" height="8.25" fill="#6ba2fc"/>
<rect x="142.98" y="233.20" width="12.35" height="8.25" fill="#76abff"/>
<rect x="154.98" y="233.20" width="12.35" height="8.25" fill="#ffffff"/>
<rect x="166.98" y="233.20" width="12.35" height="8.25" fill="#7aafff"/>
<rect x="178.97" y="233.20" width="12.35" height="8.25" fill="#6ea4fd"/>
<rect x="190.97" y="233.20" width="12.35" height="8.25" fill="#689ffb"/>
<rect x="202.97" y="233.20" width="12.35" height="8.25" fill="#71a7fe"/>
<rect x="214.97" y="233.20" width="12.35" height="8.25" fill="#6ea4fd"/>
<rect x="226.96" y="233.20" width="12.35" height="8.25" fill="#6ea4fd"/>
<rect x="238.96" y="233.20" width="12.35" height="8.25" fill="#71a7fe"/>
<rect x="250.96" y="233.20" width="12.35" height="8.25" fill="#71a7fe"/>
<rect x="262.95" y="233.20" width="12.35" height="8.25" fill="#6ea4fd"/>
<rect x="274.95" y="233.20" width="12.35" height="8.25" fill="#6ea4fd"/>
<rect x="286.95" y="233.20" width="12.35" height="8.25" fill="#76abff"/>
<rect x="298.95" y="233.20" width="12.35" height="8.25" fill="#6096f8"/>
<rect x="310.94" y="233.20" width="12.35" height="8.25" fill="#ffffff"/>
<rect x="322.94" y="233.20" width="12.35" height="8.25" fill="#5d93f6"/>
<rect x="334.94" y="233.20" width="12.35" height="8.25" fill="#71a7fe"/>
<rect x="346.93" y="233.20" width="12.35" height="8.25" fill="#6ea4fd"/>
<rect x="358.93" y="233.20" width="12.35" height="8.25" fill="#76abff"/>
<rect x="370.93" y="233.20" width="12.35" height="8.25" fill="#ffffff"/>
<rect x="382.93" y="233.20" width="12.35" height="8.25" fill="#77acff"/>
<rect x="394.92" y="233.20" width="12.35" height="8.25" fill="#689ffb"/>
<rect x="406.92" y="233.20" width="12.35" height="8.25" fill="#d30022"/>
<rect x="418.92" y="233.20" width="12.35" height="8.25" fill="#7db1ff"/>
<rect x="430.91" y="233.20" width="12.35" height="8.25" fill="#76abff"/>
<rect x="442.91" y="233.20" width="12.35" height="8.25" fill="#71a7fe"/>
<rect x="454.91" y="233.20" width="12.35" height="8.25" fill="#74aaff"/>
<rect x="466.91" y="233.20" width="12.35" height="8.25" fill="#74aaff"/>
<rect x="478.90" y="233.20" width="12.35" height="8.25" fill="#6299f9"/>
<rect x="71.00" y="241.10" width="12.35" height="8.25" fill="#6ea4fd"/>
<rect x="83.00" y="241.10" width="12.35" height="8.25" fill="#76abff"/>
<rect x="94.99" y="241.10" width="12.35" height="8.25" fill="#689ffb"/>
<rect x="106.99" y="241.10" width="12.35" height="8.25" fill="#7db1ff"/>
<rect x="118.99" y="241.10" width="12.35" height="8.25" fill="#6ba2fc"/>
<rect x="130.99" y="241.10" width="12.35" height="8.25" fill="#77acff"/>
<rect x="142.98" y="241.10" width="12.35" height="8.25" fill="#7aafff"/>
<rect x="154.98" y="241.10" width="12.35" height="8.25" fill="#ffffff"/>
<rect x="166.98" y="241.10" width="12.35" height="8.25" fill="#77acff"/>
<rect x="178.97" y="241.10" width="12.35" height="8.25" fill="#7db1ff"/>
<rect x="190.97" y="241.10" width="12.35" height="8.25" fill="#74aaff"/>
<rect x="202.97" y="241.10" width="12.35" height="8.25" fill="#74aaff"/>
<rect x="214.97" y="241.10" width="12.35" height="8.25" fill="#71a7fe"/>
<rect x="226.96" y="241.10" width="12.35" height="8.25" fill="#80b4ff"/>
<rect x="238.96" y="241.10" width="12.35" height="8.25" fill="#80b4ff"/>
<rect x="250.96" y="241.10" width="12.35" height="8.25" fill="#6ea4fd"/>
<rect x="262.95" y="241.10" width="12.35" height="8.25" fill="#76abff"/>
<rect x="274.95" y="241.10" width="12.35" height="8.25" fill="#7db1ff"/>
<rect x="286.95" y="241.10" width="12.35" height="8.25" fill="#77acff"/>
<rect x="298.95" y="241.10" width="12.35" height="8.25" fill="#71a7fe"/>
<rect x="310.94" y="241.10" width="12.35" height="8.25" fill="#ffffff"/>
<rect x="322.94" y="241.10" width="12.35" height="8.25" fill="#6ba2fc"/>
<rect x="334.94" y="241.10" width="12.35" height="8.25" fill="#74aaff"/>
<rect x="346.93" y="241.10" width="12.35" height="8.25" fill="#76abff"/>
<rect x="358.93" y="241.10" width="12.35" height="8.25" fill="#7aafff"/>
<rect x="370.93" y="241.10" width="12.35" height="8.25" fill="#ffffff"/>
<rect x="382.93" y="241.10" width="12.35" height="8.25" fill="#76abff"/>
<rect x="394.92" y="241.10" width="12.35" height="8.25" fill="#76abff"/>
<rect x="406.92" y="241.10" width="12.35" height="8.25" fill="#7db1ff"/>
<rect x="418.92" y="241.10" width="12.35" height="8.25" fill="#d30022"/>
<rect x="430.91" y="241.10" width="12.35" height="8.25" fill="#77acff"/>
<rect x="442.91" y="241.10" width="12.35" height="8.25" fill="#84b6ff"/>
<rect x="454.91" y="241.10" width="12.35" height="8.25" fill="#77acff"/>
<rect x="466.91" y="241.10" width="12.35" height="8.25" fill="#76abff"/>
<rect x="478.90" y="241.10" width="12.35" height="8.25" fill="#6299f9"/>
<rect x="71.00" y="249.00" width="12.35" height="8.25" fill="#d2dce7"/>
<rect x="83.00" y="249.00" width="12.35" height="8.25" fill="#71a7fe"/>
<rect x="94.99" y="249.00" width="12.35" height="8.25" fill="#6ba2fc"/>
<rect x="106.99" y="249.00" width="12.35" height="8.25" fill="#7aafff"/>
<rect x="118.99" y="249.00" width="12.35" height="8.25" fill="#77acff"/>
<rect x="130.99" y="249.00" width="12.35" height="8.25" fill="#8abbff"/>
<rect x="142.98" y="249.00" width="12.35" height="8.25" fill="#77acff"/>
<rect x="154.98" y="249.00" width="12.35" height="8.25" fill="#ffffff"/>
<rect x="166.98" y="249.00" width="12.35" height="8.25" fill="#71a7fe"/>
<rect x="178.97" y="249.00" width="12.35" height="8.25" fill="#76abff"/>
<rect x="190.97" y="249.00" width="12.35" height="8.25" fill="#6ba2fc"/>
<rect x="202.97" y="249.00" width="12.35" height="8.25" fill="#6ea4fd"/>
<rect x="214.97" y="249.00" width="12.35" height="8.25" fill="#6ea4fd"/>
<rect x="226.96" y="249.00" width="12.35" height="8.25" fill="#ffc2a8"/>
<rect x="238.96" y="249.00" width="12.35" height="8.25" fill="#bbd5f6"/>
<rect x="250.96" y="249.00" width="12.35" height="8.25" fill="#74aaff"/>
<rect x="262.95" y="249.00" width="12.35" height="8.25" fill="#77acff"/>
<rect x="274.95" y="249.00" width="12.35" height="8.25" fill="#ffc6ae"/>
<rect x="286.95" y="249.00" width="12.35" height="8.25" fill="#6ea4fd"/>
<rect x="298.95" y="249.00" width="12.35" height="8.25" fill="#5286f0"/>
<rect x="310.94" y="249.00" width="12.35" height="8.25" fill="#ffffff"/>
<rect x="322.94" y="249.00" width="12.35" height="8.25" fill="#71a7fe"/>
<rect x="334.94" y="249.00" width="12.35" height="8.25" fill="#689ffb"/>
<rect x="346.93" y="249.00" width="12.35" height="8.25" fill="#76abff"/>
<rect x="358.93" y="249.00" width="12.35" height="8.25" fill="#7aafff"/>
<rect x="370.93" y="249.00" width="12.35" height="8.25" fill="#ffffff"/>
<rect x="382.93" y="249.00" width="12.35" height="8.25" fill="#7aafff"/>
<rect x="394.92" y="249.00" width="12.35" height="8.25" fill="#ffa989"/>
<rect x="406.92" y="249.00" width="12.35" height="8.25" fill="#76abff"/>
<rect x="418.92" y="249.00" width="12.35" height="8.25" fill="#77acff"/>
<rect x="430.91" y="249.00" width="12.35" height="8.25" fill="#d30022"/>
<rect x="442.91" y="249.00" width="12.35" height="8.25" fill="#ff7e60"/>
<rect x="454.91" y="249.00" width="12.35" height="8.25" fill="#ffac8c"/>
<rect x="466.91" y="249.00" width="12.35" height="8.25" fill="#ff7a5d"/>
<rect x="478.90" y="249.00" width="12.35" height="8.25" fill="#5083ee"/>
<rect x="71.00" y="256.90" width="12.35" height="8.25" fill="#b5d3f9"/>
<rect x="83.00" y="256.90" width="12.35" height="8.25" fill="#71a7fe"/>
<rect x="94.99" y="256.90" width="12.35" height="8.25" fill="#77acff"/>
<rect x="106.99" y="256.90" width="12.35" height="8.25" fill="#87b9ff"/>
<rect x="118.99" y="256.90" width="12.35" height="8.25" fill="#7aafff"/>
<rect x="130.99" y="256.90" width="12.35" height="8.25" fill="#87b9ff"/>
<rect x="142.98" y="256.90" width="12.35" height="8.25" fill="#76abff"/>
<rect x="154.98" y="256.90" width="12.35" height="8.25" fill="#ffffff"/>
<rect x="166.98" y="256.90" width="12.35" height="8.25" fill="#71a7fe"/>
<rect x="178.97" y="256.90" width="12.35" height="8.25" fill="#7aafff"/>
<rect x="190.97" y="256.90" width="12.35" height="8.25" fill="#689ffb"/>
<rect x="202.97" y="256.90" width="12.35" height="8.25" fill="#6ea4fd"/>
<rect x="214.97" y="256.90" width="12.35" height="8.25" fill="#77acff"/>
<rect x="226.96" y="256.90" width="12.35" height="8.25" fill="#eadad3"/>
<rect x="238.96" y="256.90" width="12.35" height="8.25" fill="#96c3ff"/>
<rect x="250.96" y="256.90" width="12.35" height="8.25" fill="#74aaff"/>
<rect x="262.95" y="256.90" width="12.35" height="8.25" fill="#7db1ff"/>
<rect x="274.95" y="256.90" width="12.35" height="8.25" fill="#e0dddb"/>
<rect x="286.95" y="256.90" width="12.35" height="8.25" fill="#71a7fe"/>
<rect x="298.95" y="256.90" width="12.35" height="8.25" fill="#5a90f5"/>
<rect x="310.94" y="256.90" width="12.35" height="8.25" fill="#ffffff"/>
<rect x="322.94" y="256.90" width="12.35" height="8.25" fill="#6ba2fc"/>
<rect x="334.94" y="256.90" width="12.35" height="8.25" fill="#74aaff"/>
<rect x="346.93" y="256.90" width="12.35" height="8.25" fill="#7db1ff"/>
<rect x="358.93" y="256.90" width="12.35" height="8.25" fill="#6ea4fd"/>
<rect x="370.93" y="256.90" width="12.35" height="8.25" fill="#ffffff"/>
<rect x="382.93" y="256.90" width="12.35" height="8.25" fill="#84b6ff"/>
<rect x="394.92" y="256.90" width="12.35" height="8.25" fill="#fbcfbe"/>
<rect x="406.92" y="256.90" width="12.35" height="8.25" fill="#71a7fe"/>
<rect x="418.92" y="256.90" width="12.35" height="8.25" fill="#84b6ff"/>
<rect x="430.91" y="256.90" width="12.35" height="8.25" fill="#ff7e60"/>
<rect x="442.91" y="256.90" width="12.35" height="8.25" fill="#d30022"/>
<rect x="454.91" y="256.90" width="12.35" height="8.25" fill="#ffbda1"/>
<rect x="466.91" y="256.90" width="12.35" height="8.25" fill="#ff9070"/>
<rect x="478.90" y="256.90" width="12.35" height="8.25" fill="#4879e8"/>
<rect x="71.00" y="264.80" width="12.35" height="8.25" fill="#b8d4f7"/>
<rect x="83.00" y="264.80" width="12.35" height="8.25" fill="#71a7fe"/>
<rect x="94.99" y="264.80" width="12.35" height="8.25" fill="#6ba2fc"/>
<rect x="106.99" y="264.80" width="12.35" height="8.25" fill="#80b4ff"/>
<rect x="118.99" y="264.80" width="12.35" height="8.25" fill="#77acff"/>
<rect x="130.99" y="264.80" width="12.35" height="8.25" fill="#84b6ff"/>
<rect x="142.98" y="264.80" width="12.35" height="8.25" fill="#77acff"/>
<rect x="154.98" y="264.80" width="12.35" height="8.25" fill="#ffffff"/>
<rect x="166.98" y="264.80" width="12.35" height="8.25" fill="#71a7fe"/>
<rect x="178.97" y="264.80" width="12.35" height="8.25" fill="#7aafff"/>
<rect x="190.97" y="264.80" width="12.35" height="8.25" fill="#6ba2fc"/>
<rect x="202.97" y="264.80" width="12.35" height="8.25" fill="#6ba2fc"/>
<rect x="214.97" y="264.80" width="12.35" height="8.25" fill="#6ea4fd"/>
<rect x="226.96" y="264.80" width="12.35" height="8.25" fill="#dddede"/>
<rect x="238.96" y="264.80" width="12.35" height="8.25" fill="#9ec8ff"/>
<rect x="250.96" y="264.80" width="12.35" height="8.25" fill="#6ea4fd"/>
<rect x="262.95" y="264.80" width="12.35" height="8.25" fill="#80b4ff"/>
<rect x="274.95" y="264.80" width="12.35" height="8.25" fill="#dadde1"/>
<rect x="286.95" y="264.80" width="12.35" height="8.25" fill="#76abff"/>
<rect x="298.95" y="264.80" width="12.35" height="8.25" fill="#689ffb"/>
<rect x="310.94" y="264.80" width="12.35" height="8.25" fill="#ffffff"/>
<rect x="322.94" y="264.80" width="12.35" height="8.25" fill="#71a7fe"/>
<rect x="334.94" y="264.80" width="12.35" height="8.25" fill="#6ea4fd"/>
<rect x="346.93" y="264.80" width="12.35" height="8.25" fill="#7aafff"/>
<rect x="358.93" y="264.80" width="12.35" height="8.25" fill="#7db1ff"/>
<rect x="370.93" y="264.80" width="12.35" height="8.25" fill="#ffffff"/>
<rect x="382.93" y="264.80" width="12.35" height="8.25" fill="#77acff"/>
<rect x="394.92" y="264.80" width="12.35" height="8.25" fill="#ecd8d0"/>
<rect x="406.92" y="264.80" width="12.35" height="8.25" fill="#74aaff"/>
<rect x="418.92" y="264.80" width="12.35" height="8.25" fill="#77acff"/>
<rect x="430.91" y="264.80" width="12.35" height="8.25" fill="#ffac8c"/>
<rect x="442.91" y="264.80" width="12.35" height="8.25" fill="#ffbda1"/>
<rect x="454.91" y="264.80" width="12.35" height="8.25" fill="#d30022"/>
<rect x="466.91" y="264.80" width="12.35" height="8.25" fill="#ffc6ae"/>
<rect x="478.90" y="264.80" width="12.35" height="8.25" fill="#6ba2fc"/>
<rect x="71.00" y="272.70" width="12.35" height="8.25" fill="#b1d2fa"/>
<rect x="83.00" y="272.70" width="12.35" height="8.25" fill="#74aaff"/>
<rect x="94.99" y="272.70" width="12.35" height="8.25" fill="#6ba2fc"/>
<rect x="106.99" y="272.70" width="12.35" height="8.25" fill="#7db1ff"/>
<rect x="118.99" y="272.70" width="12.35" height="8.25" fill="#77acff"/>
<rect x="130.99" y="272.70" width="12.35" height="8.25" fill="#8abbff"/>
<rect x="142.98" y="272.70" width="12.35" height="8.25" fill="#76abff"/>
<rect x="154.98" y="272.70" width="12.35" height="8.25" fill="#ffffff"/>
<rect x="166.98" y="272.70" width="12.35" height="8.25" fill="#71a7fe"/>
<rect x="178.97" y="272.70" width="12.35" height="8.25" fill="#74aaff"/>
<rect x="190.97" y="272.70" width="12.35" height="8.25" fill="#6ba2fc"/>
<rect x="202.97" y="272.70" width="12.35" height="8.25" fill="#6ea4fd"/>
<rect x="214.97" y="272.70" width="12.35" height="8.25" fill="#7db1ff"/>
<rect x="226.96" y="272.70" width="12.35" height="8.25" fill="#e6dbd6"/>
<rect x="238.96" y="272.70" width="12.35" height="8.25" fill="#93c1ff"/>
<rect x="250.96" y="272.70" width="12.35" height="8.25" fill="#6ba2fc"/>
<rect x="262.95" y="272.70" width="12.35" height="8.25" fill="#77acff"/>
<rect x="274.95" y="272.70" width="12.35" height="8.25" fill="#dadde1"/>
<rect x="286.95" y="272.70" width="12.35" height="8.25" fill="#689ffb"/>
<rect x="298.95" y="272.70" width="12.35" height="8.25" fill="#558af1"/>
<rect x="310.94" y="272.70" width="12.35" height="8.25" fill="#ffffff"/>
<rect x="322.94" y="272.70" width="12.35" height="8.25" fill="#689ffb"/>
<rect x="334.94" y="272.70" width="12.35" height="8.25" fill="#71a7fe"/>
<rect x="346.93" y="272.70" width="12.35" height="8.25" fill="#7aafff"/>
<rect x="358.93" y="272.70" width="12.35" height="8.25" fill="#74aaff"/>
<rect x="370.93" y="272.70" width="12.35" height="8.25" fill="#ffffff"/>
<rect x="382.93" y="272.70" width="12.35" height="8.25" fill="#7aafff"/>
<rect x="394.92" y="272.70" width="12.35" height="8.25" fill="#fbcfbe"/>
<rect x="406.92" y="272.70" width="12.35" height="8.25" fill="#74aaff"/>
<rect x="418.92" y="272.70" width="12.35" height="8.25" fill="#76abff"/>
<rect x="430.91" y="272.70" width="12.35" height="8.25" fill="#ff7a5d"/>
<rect x="442.91" y="272.70" width="12.35" height="8.25" fill="#ff9070"/>
<rect x="454.91" y="272.70" width="12.35" height="8.25" fill="#ffc6ae"/>
<rect x="466.91" y="272.70" width="12.35" height="8.25" fill="#d30022"/>
<rect x="478.90" y="272.70" width="12.35" height="8.25" fill="#4879e8"/>
<rect x="71.00" y="280.60" width="12.35" height="8.25" fill="#4879e8"/>
<rect x="83.00" y="280.60" width="12.35" height="8.25" fill="#9dc7ff"/>
<rect x="94.99" y="280.60" width="12.35" height="8.25" fill="#6299f9"/>
<rect x="106.99" y="280.60" width="12.35" height="8.25" fill="#87b9ff"/>
<rect x="118.99" y="280.60" width="12.35" height="8.25" fill="#8dbdff"/>
<rect x="130.99" y="280.60" width="12.35" height="8.25" fill="#6ba2fc"/>
<rect x="142.98" y="280.60" width="12.35" height="8.25" fill="#90bfff"/>
<rect x="154.98" y="280.60" width="12.35" height="8.25" fill="#ffffff"/>
<rect x="166.98" y="280.60" width="12.35" height="8.25" fill="#71a7fe"/>
<rect x="178.97" y="280.60" width="12.35" height="8.25" fill="#578df3"/>
<rect x="190.97" y="280.60" width="12.35" height="8.25" fill="#7db1ff"/>
<rect x="202.97" y="280.60" width="12.35" height="8.25" fill="#71a7fe"/>
<rect x="214.97" y="280.60" width="12.35" height="8.25" fill="#5083ee"/>
<rect x="226.96" y="280.60" width="12.35" height="8.25" fill="#4676e6"/>
<rect x="238.96" y="280.60" width="12.35" height="8.25" fill="#6299f9"/>
<rect x="250.96" y="280.60" width="12.35" height="8.25" fill="#578df3"/>
<rect x="262.95" y="280.60" width="12.35" height="8.25" fill="#71a7fe"/>
<rect x="274.95" y="280.60" width="12.35" height="8.25" fill="#4879e8"/>
<rect x="286.95" y="280.60" width="12.35" height="8.25" fill="#7aafff"/>
<rect x="298.95" y="280.60" width="12.35" height="8.25" fill="#80b4ff"/>
<rect x="310.94" y="280.60" width="12.35" height="8.25" fill="#ffffff"/>
<rect x="322.94" y="280.60" width="12.35" height="8.25" fill="#c1d8f3"/>
<rect x="334.94" y="280.60" width="12.35" height="8.25" fill="#71a7fe"/>
<rect x="346.93" y="280.60" width="12.35" height="8.25" fill="#76abff"/>
<rect x="358.93" y="280.60" width="12.35" height="8.25" fill="#659cfa"/>
<rect x="370.93" y="280.60" width="12.35" height="8.25" fill="#ffffff"/>
<rect x="382.93" y="280.60" width="12.35" height="8.25" fill="#4d80ec"/>
<rect x="394.92" y="280.60" width="12.35" height="8.25" fill="#4676e6"/>
<rect x="406.92" y="280.60" width="12.35" height="8.25" fill="#6299f9"/>
<rect x="418.92" y="280.60" width="12.35" height="8.25" fill="#6299f9"/>
<rect x="430.91" y="280.60" width="12.35" height="8.25" fill="#5083ee"/>
<rect x="442.91" y="280.60" width="12.35" height="8.25" fill="#4879e8"/>
<rect x="454.91" y="280.60" width="12.35" height="8.25" fill="#6ba2fc"/>
<rect x="466.91" y="280.60" width="12.35" height="8.25" fill="#4879e8"/>
<rect x="478.90" y="280.60" width="12.35" height="8.25" fill="#d30022"/>
</g>
<g transform="matrix(1 0.0006 0 1 0 -0.1686)" font-size="4.50" text-anchor="middle" fill="#222222" stroke="#222222" stroke-width="0.06">
<text x="77.00" y="17.25" class="w">1.00</text>
<text x="89.00" y="17.25" class="w">-0.01</text>
<text x="100.99" y="17.25">0.01</text>
<text x="112.99" y="17.25" class="w">-0.03</text>
<text x="124.99" y="17.25" class="w">-0.00</text>
<text x="136.98" y="17.25">0.21</text>
<text x="148.98" y="17.25" class="w">-0.01</text>
<text x="172.98" y="17.25" class="w">-0.01</text>
<text x="184.97" y="17.25">0.01</text>
<text x="196.97" y="17.25" class="w">-0.04</text>
<text x="208.97" y="17.25">0.02</text>
<text x="220.96" y="17.25">0.03</text>
<text x="232.96" y="17.25">0.51</text>
<text x="244.96" y="17.25">0.25</text>
<text x="256.96" y="17.25" class="w">-0.00</text>
<text x="268.95" y="17.25">0.04</text>
<text x="280.95" y="17.25">0.50</text>
<text x="292.95" y="17.25">0.03</text>
<text x="304.94" y="17.25">0.30</text>
<text x="328.94" y="17.25">0.03</text>
<text x="340.94" y="17.25" class="w">0.00</text>
<text x="352.93" y="17.25" class="w">0.00</text>
<text x="364.93" y="17.25">0.05</text>
<text x="388.92" y="17.25">0.04</text>
<text x="400.92" y="17.25">0.68</text>
<text x="412.92" y="17.25" class="w">-0.02</text>
<text x="424.92" y="17.25" class="w">-0.02</text>
<text x="436.91" y="17.25">0.31</text>
<text x="448.91" y="17.25">0.21</text>
<text x="460.91" y="17.25">0.22</text>
<text x="472.90" y="17.25">0.20</text>
<text x="484.90" y="17.25" class="w">-0.16</text>
<text x="77.00" y="25.15" class="w">-0.01</text>
<text x="89.00" y="25.15" class="w">1.00</text>
<text x="100.99" y="25.15" class="w">-0.02</text>
<text x="112.99" y="25.15" class="w">-0.00</text>
<text x="124.99" y="25.15" class="w">-0.01</text>
<text x="136.98" y="25.15" class="w">-0.01</text>
<text x="148.98" y="25.15" class="w">-0.02</text>
<text x="172.98" y="25.15" class="w">-0.02</text>
<text x="184.97" y="25.15" class="w">-0.01</text>
<text x="196.97" y="25.15" class="w">-0.04</text>
<text x="208.97" y="25.15" class="w">-0.00</text>
<text x="220.96" y="25.15">0.03</text>
<text x="232.96" y="25.15" class="w">-0.01</text>
<text x="244.96" y="25.15" class="w">-0.01</text>
<text x="256.96" y="25.15">0.01</text>
<text x="268.95" y="25.15">0.02</text>
<text x="280.95" y="25.15" class="w">-0.01</text>
<text x="292.95" y="25.15" class="w">-0.01</text>
<text x="304.94" y="25.15" class="w">-0.01</text>
<text x="328.94" y="25.15">0.04</text>
<text x="340.94" y="25.15" class="w">-0.03</text>
<text x="352.93" y="25.15" class="w">-0.00</text>
<text x="364.93" y="25.15">0.01</text>
<text x="388.92" y="25.15" class="w">-0.03</text>
<text x="400.92" y="25.15">0.01</text>
<text x="412.92" y="25.15">0.02</text>
<text x="424.92" y="25.15" class="w">0.00</text>
<text x="436.91" y="25.15" class="w">-0.01</text>
<text x="448.91" y="25.15" class="w">-0.01</text>
<text x="460.91" y="25.15" class="w">-0.01</text>
<text x="472.90" y="25.15" class="w">-0.00</text>
<text x="484.90" y="25.15">0.13</text>
<text x="77.00" y="33.05">0.01</text>
<text x="89.00" y="33.05" class="w">-0.02</text>
<text x="100.99" y="33.05" class="w">1.00</text>
<text x="112.99" y="33.05" class="w">0.01</text>
<text x="124.99" y="33.05" class="w">-0.00</text>
<text x="136.98" y="33.05" class="w">-0.02</text>
<text x="148.98" y="33.05" class="w">-0.01</text>
<text x="172.98" y="33.05" class="w">-0.05</text>
<text x="184.97" y="33.05">0.02</text>
<text x="196.97" y="33.05" class="w">-0.01</text>
<text x="208.97" y="33.05">0.02</text>
<text x="220.96" y="33.05">0.05</text>
<text x="232.96" y="33.05" class="w">0.00</text>
<text x="244.96" y="33.05" class="w">-0.00</text>
<text x="256.96" y="33.05">0.03</text>
<text x="268.95" y="33.05" class="w">0.01</text>
<text x="280.95" y="33.05" class="w">0.01</text>
<text x="292.95" y="33.05" class="w">-0.03</text>
<text x="304.94" y="33.05">0.04</text>
<text x="328.94" y="33.05">0.01</text>
<text x="340.94" y="33.05">0.02</text>
<text x="352.93" y="33.05" class="w">0.00</text>
<text x="364.93" y="33.05" class="w">0.01</text>
<text x="388.92" y="33.05">0.04</text>
<text x="400.92" y="33.05">0.01</text>
<text x="412.92" y="33.05" class="w">0.00</text>
<text x="424.92" y="33.05" class="w">-0.04</text>
<text x="436.91" y="33.05" class="w">-0.03</text>
<text x="448.91" y="33.05">0.01</text>
<text x="460.91" y="33.05" class="w">-0.03</text>
<text x="472.90" y="33.05" class="w">-0.03</text>
<text x="484.90" y="33.05" class="w">-0.06</text>
<text x="77.00" y="40.95" class="w">-0.03</text>
<text x="89.00" y="40.95" class="w">-0.00</text>
<text x="100.99" y="40.95" class="w">0.01</text>
<text x="112.99" y="40.95" class="w">1.00</text>
<text x="124.99" y="40.95">0.02</text>
<text x="136.98" y="40.95">0.01</text>
<text x="148.98" y="40.95">0.06</text>
<text x="172.98" y="40.95" class="w">-0.01</text>
<text x="184.97" y="40.95" class="w">-0.02</text>
<text x="196.97" y="40.95" class="w">-0.04</text>
<text x="208.97" y="40.95" class="w">-0.00</text>
<text x="220.96" y="40.95" class="w">-0.02</text>
<text x="232.96" y="40.95">0.10</text>
<text x="244.96" y="40.95" class="w">-0.30</text>
<text x="256.96" y="40.95">0.02</text>
<text x="268.95" y="40.95">0.02</text>
<text x="280.95" y="40.95">0.05</text>
<text x="292.95" y="40.95">0.02</text>
<text x="304.94" y="40.95" class="w">-0.04</text>
<text x="328.94" y="40.95" class="w">0.01</text>
<text x="340.94" y="40.95" class="w">-0.01</text>
<text x="352.93" y="40.95" class="w">-0.02</text>
<text x="364.93" y="40.95" class="w">-0.02</text>
<text x="388.92" y="40.95" class="w">-0.01</text>
<text x="400.92" y="40.95" class="w">-0.02</text>
<text x="412.92" y="40.95">0.04</text>
<text x="424.92" y="40.95">0.03</text>
<text x="436.91" y="40.95">0.02</text>
<text x="448.91" y="40.95">0.06</text>
<text x="460.91" y="40.95">0.04</text>
<text x="472.90" y="40.95">0.03</text>
<text x="484.90" y="40.95">0.06</text>
<text x="77.00" y="48.85" class="w">-0.00</text>
<text x="89.00" y="48.85" class="w">-0.01</text>
<text x="100.99" y="48.85" class="w">-0.00</text>
<text x="112.99" y="48.85">0.02</text>
<text x="124.99" y="48.85" class="w">1.00</text>
<text x="136.98" y="48.85">0.02</text>
<text x="148.98" y="48.85">0.02</text>
<text x="172.98" y="48.85">0.03</text>
<text x="184.97" y="48.85" class="w">-0.02</text>
<text x="196.97" y="48.85" class="w">-0.00</text>
<text x="208.97" y="48.85">0.03</text>
<text x="220.96" y="48.85">0.01</text>
<text x="232.96" y="48.85" class="w">0.01</text>
<text x="244.96" y="48.85" class="w">-0.05</text>
<text x="256.96" y="48.85" class="w">-0.00</text>
<text x="268.95" y="48.85">0.02</text>
<text x="280.95" y="48.85" class="w">-0.02</text>
<text x="292.95" y="48.85">0.03</text>
<text x="304.94" y="48.85" class="w">-0.03</text>
<text x="328.94" y="48.85">0.03</text>
<text x="340.94" y="48.85">0.04</text>
<text x="352.93" y="48.85">0.03</text>
<text x="364.93" y="48.85" class="w">0.01</text>
<text x="388.92" y="48.85">0.04</text>
<text x="400.92" y="48.85" class="w">0.00</text>
<text x="412.92" y="48.85" class="w">-0.04</text>
<text x="424.92" y="48.85" class="w">-0.03</text>
<text x="436.91" y="48.85">0.01</text>
<text x="448.91" y="48.85">0.02</text>
<text x="460.91" y="48.85">0.01</text>
<text x="472.90" y="48.85">0.01</text>
<text x="484.90" y="48.85">0.08</text>
<text x="77.00" y="56.75">0.21</text>
<text x="89.00" y="56.75" class="w">-0.01</text>
<text x="100.99" y="56.75" class="w">-0.02</text>
<text x="112.99" y="56.75">0.01</text>
<text x="124.99" y="56.75">0.02</text>
<text x="136.98" y="56.75" class="w">1.00</text>
<text x="148.98" y="56.75" class="w">-0.01</text>
<text x="172.98" y="56.75">0.04</text>
<text x="184.97" y="56.75" class="w">-0.03</text>
<text x="196.97" y="56.75" class="w">-0.02</text>
<text x="208.97" y="56.75">0.02</text>
<text x="220.96" y="56.75">0.04</text>
<text x="232.96" y="56.75">0.10</text>
<text x="244.96" y="56.75" class="w">-0.01</text>
<text x="256.96" y="56.75" class="w">-0.01</text>
<text x="268.95" y="56.75" class="w">0.00</text>
<text x="280.95" y="56.75">0.09</text>
<text x="292.95" y="56.75" class="w">-0.03</text>
<text x="304.94" y="56.75">0.13</text>
<text x="328.94" y="56.75" class="w">-0.02</text>
<text x="340.94" y="56.75" class="w">-0.01</text>
<text x="352.93" y="56.75" class="w">-0.02</text>
<text x="364.93" y="56.75" class="w">-0.01</text>
<text x="388.92" y="56.75">0.02</text>
<text x="400.92" y="56.75">0.15</text>
<text x="412.92" y="56.75" class="w">-0.03</text>
<text x="424.92" y="56.75">0.01</text>
<text x="436.91" y="56.75">0.07</text>
<text x="448.91" y="56.75">0.06</text>
<text x="460.91" y="56.75">0.05</text>
<text x="472.90" y="56.75">0.07</text>
<text x="484.90" y="56.75" class="w">-0.03</text>
<text x="77.00" y="64.65" class="w">-0.01</text>
<text x="89.00" y="64.65" class="w">-0.02</text>
<text x="100.99" y="64.65" class="w">-0.01</text>
<text x="112.99" y="64.65">0.06</text>
<text x="124.99" y="64.65">0.02</text>
<text x="136.98" y="64.65" class="w">-0.01</text>
<text x="148.98" y="64.65" class="w">1.00</text>
<text x="172.98" y="64.65" class="w">0.01</text>
<text x="184.97" y="64.65" class="w">-0.00</text>
<text x="196.97" y="64.65" class="w">-0.01</text>
<text x="208.97" y="64.65" class="w">-0.00</text>
<text x="220.96" y="64.65" class="w">-0.00</text>
<text x="232.96" y="64.65">0.01</text>
<text x="244.96" y="64.65">0.02</text>
<text x="256.96" y="64.65" class="w">-0.05</text>
<text x="268.95" y="64.65">0.03</text>
<text x="280.95" y="64.65">0.01</text>
<text x="292.95" y="64.65" class="w">0.00</text>
<text x="304.94" y="64.65" class="w">0.01</text>
<text x="328.94" y="64.65" class="w">-0.01</text>
<text x="340.94" y="64.65" class="w">-0.05</text>
<text x="352.93" y="64.65" class="w">-0.03</text>
<text x="364.93" y="64.65">0.02</text>
<text x="388.92" y="64.65">0.03</text>
<text x="400.92" y="64.65" class="w">0.00</text>
<text x="412.92" y="64.65" class="w">0.00</text>
<text x="424.92" y="64.65">0.02</text>
<text x="436.91" y="64.65">0.01</text>
<text x="448.91" y="64.65" class="w">0.00</text>
<text x="460.91" y="64.65">0.01</text>
<text x="472.90" y="64.65" class="w">0.00</text>
<text x="484.90" y="64.65">0.09</text>
<text x="77.00" y="80.45" class="w">-0.01</text>
<text x="89.00" y="80.45" class="w">-0.02</text>
<text x="100.99" y="80.45" class="w">-0.05</text>
<text x="112.99" y="80.45" class="w">-0.01</text>
<text x="124.99" y="80.45">0.03</text>
<text x="136.98" y="80.45">0.04</text>
<text x="148.98" y="80.45" class="w">0.01</text>
<text x="172.98" y="80.45" class="w">1.00</text>
<text x="184.97" y="80.45">0.02</text>
<text x="196.97" y="80.45">0.02</text>
<text x="208.97" y="80.45">0.04</text>
<text x="220.96" y="80.45" class="w">-0.01</text>
<text x="232.96" y="80.45" class="w">-0.02</text>
<text x="244.96" y="80.45" class="w">-0.01</text>
<text x="256.96" y="80.45" class="w">-0.05</text>
<text x="268.95" y="80.45">0.05</text>
<text x="280.95" y="80.45" class="w">-0.01</text>
<text x="292.95" y="80.45">0.01</text>
<text x="304.94" y="80.45" class="w">-0.00</text>
<text x="328.94" y="80.45" class="w">-0.02</text>
<text x="340.94" y="80.45" class="w">-0.01</text>
<text x="352.93" y="80.45" class="w">-0.02</text>
<text x="364.93" y="80.45" class="w">-0.07</text>
<text x="388.92" y="80.45">0.06</text>
<text x="400.92" y="80.45" class="w">-0.01</text>
<text x="412.92" y="80.45">0.02</text>
<text x="424.92" y="80.45">0.01</text>
<text x="436.91" y="80.45" class="w">-0.01</text>
<text x="448.91" y="80.45" class="w">-0.01</text>
<text x="460.91" y="80.45" class="w">-0.01</text>
<text x="472.90" y="80.45" class="w">-0.01</text>
<text x="484.90" y="80.45" class="w">-0.01</text>
<text x="77.00" y="88.35">0.01</text>
<text x="89.00" y="88.35" class="w">-0.01</text>
<text x="100.99" y="88.35">0.02</text>
<text x="112.99" y="88.35" class="w">-0.02</text>
<text x="124.99" y="88.35" class="w">-0.02</text>
<text x="136.98" y="88.35" class="w">-0.03</text>
<text x="148.98" y="88.35" class="w">-0.00</text>
<text x="172.98" y="88.35">0.02</text>
<text x="184.97" y="88.35" class="w">1.00</text>
<text x="196.97" y="88.35" class="w">0.00</text>
<text x="208.97" y="88.35" class="w">-0.05</text>
<text x="220.96" y="88.35" class="w">-0.01</text>
<text x="232.96" y="88.35" class="w">0.00</text>
<text x="244.96" y="88.35" class="w">-0.00</text>
<text x="256.96" y="88.35" class="w">-0.01</text>
<text x="268.95" y="88.35" class="w">-0.02</text>
<text x="280.95" y="88.35" class="w">-0.01</text>
<text x="292.95" y="88.35">0.04</text>
<text x="304.94" y="88.35">0.01</text>
<text x="328.94" y="88.35">0.07</text>
<text x="340.94" y="88.35" class="w">-0.03</text>
<text x="352.93" y="88.35" class="w">-0.03</text>
<text x="364.93" y="88.35" class="w">0.01</text>
<text x="388.92" y="88.35" class="w">0.00</text>
<text x="400.92" y="88.35" class="w">-0.00</text>
<text x="412.92" y="88.35" class="w">-0.02</text>
<text x="424.92" y="88.35">0.03</text>
<text x="436.91" y="88.35" class="w">0.00</text>
<text x="448.91" y="88.35">0.02</text>
<text x="460.91" y="88.35">0.02</text>
<text x="472.90" y="88.35" class="w">-0.00</text>
<text x="484.90" y="88.35" class="w">-0.10</text>
<text x="77.00" y="96.25" class="w">-0.04</text>
<text x="89.00" y="96.25" class="w">-0.04</text>
<text x="100.99" y="96.25" class="w">-0.01</text>
<text x="112.99" y="96.25" class="w">-0.04</text>
<text x="124.99" y="96.25" class="w">-0.00</text>
<text x="136.98" y="96.25" class="w">-0.02</text>
<text x="148.98" y="96.25" class="w">-0.01</text>
<text x="172.98" y="96.25">0.02</text>
<text x="184.97" y="96.25" class="w">0.00</text>
<text x="196.97" y="96.25" class="w">1.00</text>
<text x="208.97" y="96.25" class="w">-0.00</text>
<text x="220.96" y="96.25">0.02</text>
<text x="232.96" y="96.25" class="w">-0.04</text>
<text x="244.96" y="96.25" class="w">-0.03</text>
<text x="256.96" y="96.25">0.03</text>
<text x="268.95" y="96.25" class="w">-0.03</text>
<text x="280.95" y="96.25" class="w">-0.03</text>
<text x="292.95" y="96.25" class="w">-0.04</text>
<text x="304.94" y="96.25" class="w">-0.04</text>
<text x="328.94" y="96.25" class="w">-0.04</text>
<text x="340.94" y="96.25" class="w">0.00</text>
<text x="352.93" y="96.25" class="w">-0.01</text>
<text x="364.93" y="96.25">0.02</text>
<text x="388.92" y="96.25">0.01</text>
<text x="400.92" y="96.25" class="w">-0.05</text>
<text x="412.92" y="96.25" class="w">-0.04</text>
<text x="424.92" y="96.25" class="w">-0.00</text>
<text x="436.91" y="96.25" class="w">-0.03</text>
<text x="448.91" y="96.25" class="w">-0.04</text>
<text x="460.91" y="96.25" class="w">-0.03</text>
<text x="472.90" y="96.25" class="w">-0.03</text>
<text x="484.90" y="96.25">0.03</text>
<text x="77.00" y="104.15">0.02</text>
<text x="89.00" y="104.15" class="w">-0.00</text>
<text x="100.99" y="104.15">0.02</text>
<text x="112.99" y="104.15" class="w">-0.00</text>
<text x="124.99" y="104.15">0.03</text>
<text x="136.98" y="104.15">0.02</text>
<text x="148.98" y="104.15" class="w">-0.00</text>
<text x="172.98" y="104.15">0.04</text>
<text x="184.97" y="104.15" class="w">-0.05</text>
<text x="196.97" y="104.15" class="w">-0.00</text>
<text x="208.97" y="104.15" class="w">1.00</text>
<text x="220.96" y="104.15">0.04</text>
<text x="232.96" y="104.15" class="w">-0.03</text>
<text x="244.96" y="104.15" class="w">-0.01</text>
<text x="256.96" y="104.15" class="w">-0.07</text>
<text x="268.95" y="104.15">0.03</text>
<text x="280.95" y="104.15" class="w">-0.02</text>
<text x="292.95" y="104.15" class="w">-0.02</text>
<text x="304.94" y="104.15">0.02</text>
<text x="328.94" y="104.15" class="w">-0.01</text>
<text x="340.94" y="104.15" class="w">-0.01</text>
<text x="352.93" y="104.15" class="w">-0.00</text>
<text x="364.93" y="104.15" class="w">0.00</text>
<text x="388.92" y="104.15">0.05</text>
<text x="400.92" y="104.15" class="w">-0.00</text>
<text x="412.92" y="104.15" class="w">-0.01</text>
<text x="424.92" y="104.15" class="w">-0.00</text>
<text x="436.91" y="104.15" class="w">-0.02</text>
<text x="448.91" y="104.15" class="w">-0.02</text>
<text x="460.91" y="104.15" class="w">-0.03</text>
<text x="472.90" y="104.15" class="w">-0.02</text>
<text x="484.90" y="104.15" class="w">-0.01</text>
<text x="77.00" y="112.05">0.03</text>
<text x="89.00" y="112.05">0.03</text>
<text x="100.99" y="112.05">0.05</text>
<text x="112.99" y="112.05" class="w">-0.02</text>
<text x="124.99" y="112.05">0.01</text>
<text x="136.98" y="112.05">0.04</text>
<text x="148.98" y="112.05" class="w">-0.00</text>
<text x="172.98" y="112.05" class="w">-0.01</text>
<text x="184.97" y="112.05" class="w">-0.01</text>
<text x="196.97" y="112.05">0.02</text>
<text x="208.97" y="112.05">0.04</text>
<text x="220.96" y="112.05" class="w">1.00</text>
<text x="232.96" y="112.05" class="w">-0.01</text>
<text x="244.96" y="112.05" class="w">-0.00</text>
<text x="256.96" y="112.05" class="w">-0.02</text>
<text x="268.95" y="112.05">0.01</text>
<text x="280.95" y="112.05" class="w">-0.02</text>
<text x="292.95" y="112.05" class="w">-0.02</text>
<text x="304.94" y="112.05">0.02</text>
<text x="328.94" y="112.05" class="w">-0.00</text>
<text x="340.94" y="112.05" class="w">-0.02</text>
<text x="352.93" y="112.05" class="w">-0.03</text>
<text x="364.93" y="112.05">0.03</text>
<text x="388.92" y="112.05">0.02</text>
<text x="400.92" y="112.05" class="w">-0.01</text>
<text x="412.92" y="112.05" class="w">-0.02</text>
<text x="424.92" y="112.05" class="w">-0.01</text>
<text x="436.91" y="112.05" class="w">-0.02</text>
<text x="448.91" y="112.05">0.01</text>
<text x="460.91" y="112.05" class="w">-0.02</text>
<text x="472.90" y="112.05">0.03</text>
<text x="484.90" y="112.05" class="w">-0.13</text>
<text x="77.00" y="119.95">0.51</text>
<text x="89.00" y="119.95" class="w">-0.01</text>
<text x="100.99" y="119.95" class="w">0.00</text>
<text x="112.99" y="119.95">0.10</text>
<text x="124.99" y="119.95" class="w">0.01</text>
<text x="136.98" y="119.95">0.10</text>
<text x="148.98" y="119.95">0.01</text>
<text x="172.98" y="119.95" class="w">-0.02</text>
<text x="184.97" y="119.95" class="w">0.00</text>
<text x="196.97" y="119.95" class="w">-0.04</text>
<text x="208.97" y="119.95" class="w">-0.03</text>
<text x="220.96" y="119.95" class="w">-0.01</text>
<text x="232.96" y="119.95" class="w">1.00</text>
<text x="244.96" y="119.95">0.48</text>
<text x="256.96" y="119.95" class="w">-0.00</text>
<text x="268.95" y="119.95">0.01</text>
<text x="280.95" y="119.95" class="w">0.95</text>
<text x="292.95" y="119.95">0.04</text>
<text x="304.94" y="119.95">0.14</text>
<text x="328.94" y="119.95" class="w">0.00</text>
<text x="340.94" y="119.95" class="w">-0.03</text>
<text x="352.93" y="119.95" class="w">-0.02</text>
<text x="364.93" y="119.95">0.02</text>
<text x="388.92" y="119.95">0.01</text>
<text x="400.92" y="119.95" class="w">0.78</text>
<text x="412.92" y="119.95" class="w">-0.02</text>
<text x="424.92" y="119.95">0.04</text>
<text x="436.91" y="119.95">0.53</text>
<text x="448.91" y="119.95">0.39</text>
<text x="460.91" y="119.95">0.35</text>
<text x="472.90" y="119.95">0.38</text>
<text x="484.90" y="119.95" class="w">-0.17</text>
<text x="77.00" y="127.85">0.25</text>
<text x="89.00" y="127.85" class="w">-0.01</text>
<text x="100.99" y="127.85" class="w">-0.00</text>
<text x="112.99" y="127.85" class="w">-0.30</text>
<text x="124.99" y="127.85" class="w">-0.05</text>
<text x="136.98" y="127.85" class="w">-0.01</text>
<text x="148.98" y="127.85">0.02</text>
<text x="172.98" y="127.85" class="w">-0.01</text>
<text x="184.97" y="127.85" class="w">-0.00</text>
<text x="196.97" y="127.85" class="w">-0.03</text>
<text x="208.97" y="127.85" class="w">-0.01</text>
<text x="220.96" y="127.85" class="w">-0.00</text>
<text x="232.96" y="127.85">0.48</text>
<text x="244.96" y="127.85" class="w">1.00</text>
<text x="256.96" y="127.85" class="w">-0.02</text>
<text x="268.95" y="127.85">0.01</text>
<text x="280.95" y="127.85">0.57</text>
<text x="292.95" y="127.85">0.03</text>
<text x="304.94" y="127.85">0.05</text>
<text x="328.94" y="127.85" class="w">-0.02</text>
<text x="340.94" y="127.85">0.02</text>
<text x="352.93" y="127.85">0.01</text>
<text x="364.93" y="127.85">0.02</text>
<text x="388.92" y="127.85" class="w">-0.02</text>
<text x="400.92" y="127.85">0.41</text>
<text x="412.92" y="127.85" class="w">-0.01</text>
<text x="424.92" y="127.85">0.04</text>
<text x="436.91" y="127.85">0.23</text>
<text x="448.91" y="127.85">0.11</text>
<text x="460.91" y="127.85">0.14</text>
<text x="472.90" y="127.85">0.10</text>
<text x="484.90" y="127.85" class="w">-0.06</text>
<text x="77.00" y="135.75" class="w">-0.00</text>
<text x="89.00" y="135.75">0.01</text>
<text x="100.99" y="135.75">0.03</text>
<text x="112.99" y="135.75">0.02</text>
<text x="124.99" y="135.75" class="w">-0.00</text>
<text x="136.98" y="135.75" class="w">-0.01</text>
<text x="148.98" y="135.75" class="w">-0.05</text>
<text x="172.98" y="135.75" class="w">-0.05</text>
<text x="184.97" y="135.75" class="w">-0.01</text>
<text x="196.97" y="135.75">0.03</text>
<text x="208.97" y="135.75" class="w">-0.07</text>
<text x="220.96" y="135.75" class="w">-0.02</text>
<text x="232.96" y="135.75" class="w">-0.00</text>
<text x="244.96" y="135.75" class="w">-0.02</text>
<text x="256.96" y="135.75" class="w">1.00</text>
<text x="268.95" y="135.75" class="w">0.00</text>
<text x="280.95" y="135.75" class="w">-0.01</text>
<text x="292.95" y="135.75" class="w">0.00</text>
<text x="304.94" y="135.75" class="w">-0.06</text>
<text x="328.94" y="135.75">0.02</text>
<text x="340.94" y="135.75">0.02</text>
<text x="352.93" y="135.75" class="w">0.00</text>
<text x="364.93" y="135.75" class="w">-0.01</text>
<text x="388.92" y="135.75">0.01</text>
<text x="400.92" y="135.75" class="w">-0.02</text>
<text x="412.92" y="135.75" class="w">-0.01</text>
<text x="424.92" y="135.75" class="w">-0.02</text>
<text x="436.91" y="135.75" class="w">-0.00</text>
<text x="448.91" y="135.75" class="w">-0.00</text>
<text x="460.91" y="135.75" class="w">-0.02</text>
<text x="472.90" y="135.75" class="w">-0.03</text>
<text x="484.90" y="135.75" class="w">-0.10</text>
<text x="77.00" y="143.65">0.04</text>
<text x="89.00" y="143.65">0.02</text>
<text x="100.99" y="143.65" class="w">0.01</text>
<text x="112.99" y="143.65">0.02</text>
<text x="124.99" y="143.65">0.02</text>
<text x="136.98" y="143.65" class="w">0.00</text>
<text x="148.98" y="143.65">0.03</text>
<text x="172.98" y="143.65">0.05</text>
<text x="184.97" y="143.65" class="w">-0.02</text>
<text x="196.97" y="143.65" class="w">-0.03</text>
<text x="208.97" y="143.65">0.03</text>
<text x="220.96" y="143.65">0.01</text>
<text x="232.96" y="143.65">0.01</text>
<text x="244.96" y="143.65">0.01</text>
<text x="256.96" y="143.65" class="w">0.00</text>
<text x="268.95" y="143.65" class="w">1.00</text>
<text x="280.95" y="143.65">0.02</text>
<text x="292.95" y="143.65" class="w">-0.02</text>
<text x="304.94" y="143.65" class="w">-0.01</text>
<text x="328.94" y="143.65" class="w">-0.02</text>
<text x="340.94" y="143.65">0.01</text>
<text x="352.93" y="143.65">0.01</text>
<text x="364.93" y="143.65" class="w">-0.01</text>
<text x="388.92" y="143.65" class="w">-0.09</text>
<text x="400.92" y="143.65">0.01</text>
<text x="412.92" y="143.65" class="w">-0.02</text>
<text x="424.92" y="143.65" class="w">0.00</text>
<text x="436.91" y="143.65">0.01</text>
<text x="448.91" y="143.65">0.03</text>
<text x="460.91" y="143.65">0.04</text>
<text x="472.90" y="143.65">0.01</text>
<text x="484.90" y="143.65" class="w">-0.01</text>
<text x="77.00" y="151.55">0.50</text>
<text x="89.00" y="151.55" class="w">-0.01</text>
<text x="100.99" y="151.55" class="w">0.01</text>
<text x="112.99" y="151.55">0.05</text>
<text x="124.99" y="151.55" class="w">-0.02</text>
<text x="136.98" y="151.55">0.09</text>
<text x="148.98" y="151.55">0.01</text>
<text x="172.98" y="151.55" class="w">-0.01</text>
<text x="184.97" y="151.55" class="w">-0.01</text>
<text x="196.97" y="151.55" class="w">-0.03</text>
<text x="208.97" y="151.55" class="w">-0.02</text>
<text x="220.96" y="151.55" class="w">-0.02</text>
<text x="232.96" y="151.55" class="w">0.95</text>
<text x="244.96" y="151.55">0.57</text>
<text x="256.96" y="151.55" class="w">-0.01</text>
<text x="268.95" y="151.55">0.02</text>
<text x="280.95" y="151.55" class="w">1.00</text>
<text x="292.95" y="151.55">0.03</text>
<text x="304.94" y="151.55">0.15</text>
<text x="328.94" y="151.55" class="w">0.01</text>
<text x="340.94" y="151.55" class="w">-0.03</text>
<text x="352.93" y="151.55" class="w">-0.02</text>
<text x="364.93" y="151.55">0.03</text>
<text x="388.92" y="151.55" class="w">0.01</text>
<text x="400.92" y="151.55" class="w">0.77</text>
<text x="412.92" y="151.55" class="w">-0.02</text>
<text x="424.92" y="151.55">0.03</text>
<text x="436.91" y="151.55">0.51</text>
<text x="448.91" y="151.55">0.36</text>
<text x="460.91" y="151.55">0.34</text>
<text x="472.90" y="151.55">0.34</text>
<text x="484.90" y="151.55" class="w">-0.16</text>
<text x="77.00" y="159.45">0.03</text>
<text x="89.00" y="159.45" class="w">-0.01</text>
<text x="100.99" y="159.45" class="w">-0.03</text>
<text x="112.99" y="159.45">0.02</text>
<text x="124.99" y="159.45">0.03</text>
<text x="136.98" y="159.45" class="w">-0.03</text>
<text x="148.98" y="159.45" class="w">0.00</text>
<text x="172.98" y="159.45">0.01</text>
<text x="184.97" y="159.45">0.04</text>
<text x="196.97" y="159.45" class="w">-0.04</text>
<text x="208.97" y="159.45" class="w">-0.02</text>
<text x="220.96" y="159.45" class="w">-0.02</text>
<text x="232.96" y="159.45">0.04</text>
<text x="244.96" y="159.45">0.03</text>
<text x="256.96" y="159.45" class="w">0.00</text>
<text x="268.95" y="159.45" class="w">-0.02</text>
<text x="280.95" y="159.45">0.03</text>
<text x="292.95" y="159.45" class="w">1.00</text>
<text x="304.94" y="159.45">0.02</text>
<text x="328.94" y="159.45">0.02</text>
<text x="340.94" y="159.45" class="w">-0.01</text>
<text x="352.93" y="159.45" class="w">-0.01</text>
<text x="364.93" y="159.45" class="w">-0.00</text>
<text x="388.92" y="159.45" class="w">-0.03</text>
<text x="400.92" y="159.45">0.03</text>
<text x="412.92" y="159.45" class="w">0.00</text>
<text x="424.92" y="159.45">0.01</text>
<text x="436.91" y="159.45" class="w">-0.02</text>
<text x="448.91" y="159.45" class="w">-0.01</text>
<text x="460.91" y="159.45" class="w">0.00</text>
<text x="472.90" y="159.45" class="w">-0.04</text>
<text x="484.90" y="159.45">0.02</text>
<text x="77.00" y="167.35">0.30</text>
<text x="89.00" y="167.35" class="w">-0.01</text>
<text x="100.99" y="167.35">0.04</text>
<text x="112.99" y="167.35" class="w">-0.04</text>
<text x="124.99" y="167.35" class="w">-0.03</text>
<text x="136.98" y="167.35">0.13</text>
<text x="148.98" y="167.35" class="w">0.01</text>
<text x="172.98" y="167.35" class="w">-0.00</text>
<text x="184.97" y="167.35">0.01</text>
<text x="196.97" y="167.35" class="w">-0.04</text>
<text x="208.97" y="167.35">0.02</text>
<text x="220.96" y="167.35">0.02</text>
<text x="232.96" y="167.35">0.14</text>
<text x="244.96" y="167.35">0.05</text>
<text x="256.96" y="167.35" class="w">-0.06</text>
<text x="268.95" y="167.35" class="w">-0.01</text>
<text x="280.95" y="167.35">0.15</text>
<text x="292.95" y="167.35">0.02</text>
<text x="304.94" y="167.35" class="w">1.00</text>
<text x="328.94" y="167.35" class="w">-0.02</text>
<text x="340.94" y="167.35" class="w">-0.01</text>
<text x="352.93" y="167.35" class="w">-0.01</text>
<text x="364.93" y="167.35">0.05</text>
<text x="388.92" y="167.35">0.03</text>
<text x="400.92" y="167.35">0.24</text>
<text x="412.92" y="167.35" class="w">-0.07</text>
<text x="424.92" y="167.35" class="w">-0.01</text>
<text x="436.91" y="167.35" class="w">-0.12</text>
<text x="448.91" y="167.35" class="w">-0.09</text>
<text x="460.91" y="167.35" class="w">-0.04</text>
<text x="472.90" y="167.35" class="w">-0.11</text>
<text x="484.90" y="167.35">0.04</text>
<text x="77.00" y="183.15">0.03</text>
<text x="89.00" y="183.15">0.04</text>
<text x="100.99" y="183.15">0.01</text>
<text x="112.99" y="183.15" class="w">0.01</text>
<text x="124.99" y="183.15">0.03</text>
<text x="136.98" y="183.15" class="w">-0.02</text>
<text x="148.98" y="183.15" class="w">-0.01</text>
<text x="172.98" y="183.15" class="w">-0.02</text>
<text x="184.97" y="183.15">0.07</text>
<text x="196.97" y="183.15" class="w">-0.04</text>
<text x="208.97" y="183.15" class="w">-0.01</text>
<text x="220.96" y="183.15" class="w">-0.00</text>
<text x="232.96" y="183.15" class="w">0.00</text>
<text x="244.96" y="183.15" class="w">-0.02</text>
<text x="256.96" y="183.15">0.02</text>
<text x="268.95" y="183.15" class="w">-0.02</text>
<text x="280.95" y="183.15" class="w">0.01</text>
<text x="292.95" y="183.15">0.02</text>
<text x="304.94" y="183.15" class="w">-0.02</text>
<text x="328.94" y="183.15" class="w">1.00</text>
<text x="340.94" y="183.15" class="w">-0.01</text>
<text x="352.93" y="183.15" class="w">0.00</text>
<text x="364.93" y="183.15">0.05</text>
<text x="388.92" y="183.15" class="w">-0.00</text>
<text x="400.92" y="183.15">0.01</text>
<text x="412.92" y="183.15" class="w">-0.08</text>
<text x="424.92" y="183.15" class="w">-0.03</text>
<text x="436.91" y="183.15" class="w">-0.01</text>
<text x="448.91" y="183.15" class="w">-0.03</text>
<text x="460.91" y="183.15" class="w">-0.01</text>
<text x="472.90" y="183.15" class="w">-0.04</text>
<text x="484.90" y="183.15">0.25</text>
<text x="77.00" y="191.05" class="w">0.00</text>
<text x="89.00" y="191.05" class="w">-0.03</text>
<text x="100.99" y="191.05">0.02</text>
<text x="112.99" y="191.05" class="w">-0.01</text>
<text x="124.99" y="191.05">0.04</text>
<text x="136.98" y="191.05" class="w">-0.01</text>
<text x="148.98" y="191.05" class="w">-0.05</text>
<text x="172.98" y="191.05" class="w">-0.01</text>
<text x="184.97" y="191.05" class="w">-0.03</text>
<text x="196.97" y="191.05" class="w">0.00</text>
<text x="208.97" y="191.05" class="w">-0.01</text>
<text x="220.96" y="191.05" class="w">-0.02</text>
<text x="232.96" y="191.05" class="w">-0.03</text>
<text x="244.96" y="191.05">0.02</text>
<text x="256.96" y="191.05">0.02</text>
<text x="268.95" y="191.05">0.01</text>
<text x="280.95" y="191.05" class="w">-0.03</text>
<text x="292.95" y="191.05" class="w">-0.01</text>
<text x="304.94" y="191.05" class="w">-0.01</text>
<text x="328.94" y="191.05" class="w">-0.01</text>
<text x="340.94" y="191.05" class="w">1.00</text>
<text x="352.93" y="191.05" class="w">0.77</text>
<text x="364.93" y="191.05" class="w">-0.04</text>
<text x="388.92" y="191.05" class="w">0.01</text>
<text x="400.92" y="191.05" class="w">-0.02</text>
<text x="412.92" y="191.05" class="w">-0.01</text>
<text x="424.92" y="191.05" class="w">-0.00</text>
<text x="436.91" y="191.05" class="w">-0.04</text>
<text x="448.91" y="191.05" class="w">-0.00</text>
<text x="460.91" y="191.05" class="w">-0.02</text>
<text x="472.90" y="191.05" class="w">-0.01</text>
<text x="484.90" y="191.05" class="w">-0.01</text>
<text x="77.00" y="198.95" class="w">0.00</text>
<text x="89.00" y="198.95" class="w">-0.00</text>
<text x="100.99" y="198.95" class="w">0.00</text>
<text x="112.99" y="198.95" class="w">-0.02</text>
<text x="124.99" y="198.95">0.03</text>
<text x="136.98" y="198.95" class="w">-0.02</text>
<text x="148.98" y="198.95" class="w">-0.03</text>
<text x="172.98" y="198.95" class="w">-0.02</text>
<text x="184.97" y="198.95" class="w">-0.03</text>
<text x="196.97" y="198.95" class="w">-0.01</text>
<text x="208.97" y="198.95" class="w">-0.00</text>
<text x="220.96" y="198.95" class="w">-0.03</text>
<text x="232.96" y="198.95" class="w">-0.02</text>
<text x="244.96" y="198.95">0.01</text>
<text x="256.96" y="198.95" class="w">0.00</text>
<text x="268.95" y="198.95">0.01</text>
<text x="280.95" y="198.95" class="w">-0.02</text>
<text x="292.95" y="198.95" class="w">-0.01</text>
<text x="304.94" y="198.95" class="w">-0.01</text>
<text x="328.94" y="198.95" class="w">0.00</text>
<text x="340.94" y="198.95" class="w">0.77</text>
<text x="352.93" y="198.95" class="w">1.00</text>
<text x="364.93" y="198.95" class="w">-0.03</text>
<text x="388.92" y="198.95" class="w">0.00</text>
<text x="400.92" y="198.95">0.01</text>
<text x="412.92" y="198.95" class="w">-0.02</text>
<text x="424.92" y="198.95" class="w">0.00</text>
<text x="436.91" y="198.95" class="w">0.00</text>
<text x="448.91" y="198.95">0.03</text>
<text x="460.91" y="198.95">0.02</text>
<text x="472.90" y="198.95">0.02</text>
<text x="484.90" y="198.95" class="w">0.00</text>
<text x="77.00" y="206.85">0.05</text>
<text x="89.00" y="206.85">0.01</text>
<text x="100.99" y="206.85" class="w">0.01</text>
<text x="112.99" y="206.85" class="w">-0.02</text>
<text x="124.99" y="206.85" class="w">0.01</text>
<text x="136.98" y="206.85" class="w">-0.01</text>
<text x="148.98" y="206.85">0.02</text>
<text x="172.98" y="206.85" class="w">-0.07</text>
<text x="184.97" y="206.85" class="w">0.01</text>
<text x="196.97" y="206.85">0.02</text>
<text x="208.97" y="206.85" class="w">0.00</text>
<text x="220.96" y="206.85">0.03</text>
<text x="232.96" y="206.85">0.02</text>
<text x="244.96" y="206.85">0.02</text>
<text x="256.96" y="206.85" class="w">-0.01</text>
<text x="268.95" y="206.85" class="w">-0.01</text>
<text x="280.95" y="206.85">0.03</text>
<text x="292.95" y="206.85" class="w">-0.00</text>
<text x="304.94" y="206.85">0.05</text>
<text x="328.94" y="206.85">0.05</text>
<text x="340.94" y="206.85" class="w">-0.04</text>
<text x="352.93" y="206.85" class="w">-0.03</text>
<text x="364.93" y="206.85" class="w">1.00</text>
<text x="388.92" y="206.85" class="w">-0.05</text>
<text x="400.92" y="206.85">0.02</text>
<text x="412.92" y="206.85" class="w">0.00</text>
<text x="424.92" y="206.85">0.02</text>
<text x="436.91" y="206.85">0.02</text>
<text x="448.91" y="206.85" class="w">-0.02</text>
<text x="460.91" y="206.85">0.03</text>
<text x="472.90" y="206.85" class="w">-0.00</text>
<text x="484.90" y="206.85" class="w">-0.05</text>
<text x="77.00" y="222.65">0.04</text>
<text x="89.00" y="222.65" class="w">-0.03</text>
<text x="100.99" y="222.65">0.04</text>
<text x="112.99" y="222.65" class="w">-0.01</text>
<text x="124.99" y="222.65">0.04</text>
<text x="136.98" y="222.65">0.02</text>
<text x="148.98" y="222.65">0.03</text>
<text x="172.98" y="222.65">0.06</text>
<text x="184.97" y="222.65" class="w">0.00</text>
<text x="196.97" y="222.65">0.01</text>
<text x="208.97" y="222.65">0.05</text>
<text x="220.96" y="222.65">0.02</text>
<text x="232.96" y="222.65">0.01</text>
<text x="244.96" y="222.65" class="w">-0.02</text>
<text x="256.96" y="222.65">0.01</text>
<text x="268.95" y="222.65" class="w">-0.09</text>
<text x="280.95" y="222.65" class="w">0.01</text>
<text x="292.95" y="222.65" class="w">-0.03</text>
<text x="304.94" y="222.65">0.03</text>
<text x="328.94" y="222.65" class="w">-0.00</text>
<text x="340.94" y="222.65" class="w">0.01</text>
<text x="352.93" y="222.65" class="w">0.00</text>
<text x="364.93" y="222.65" class="w">-0.05</text>
<text x="388.92" y="222.65" class="w">1.00</text>
<text x="400.92" y="222.65">0.01</text>
<text x="412.92" y="222.65">0.01</text>
<text x="424.92" y="222.65" class="w">0.00</text>
<text x="436.91" y="222.65">0.02</text>
<text x="448.91" y="222.65">0.05</text>
<text x="460.91" y="222.65">0.01</text>
<text x="472.90" y="222.65">0.02</text>
<text x="484.90" y="222.65" class="w">-0.14</text>
<text x="77.00" y="230.55">0.68</text>
<text x="89.00" y="230.55">0.01</text>
<text x="100.99" y="230.55">0.01</text>
<text x="112.99" y="230.55" class="w">-0.02</text>
<text x="124.99" y="230.55" class="w">0.00</text>
<text x="136.98" y="230.55">0.15</text>
<text x="148.98" y="230.55" class="w">0.00</text>
<text x="172.98" y="230.55" class="w">-0.01</text>
<text x="184.97" y="230.55" class="w">-0.00</text>
<text x="196.97" y="230.55" class="w">-0.05</text>
<text x="208.97" y="230.55" class="w">-0.00</text>
<text x="220.96" y="230.55" class="w">-0.01</text>
<text x="232.96" y="230.55" class="w">0.78</text>
<text x="244.96" y="230.55">0.41</text>
<text x="256.96" y="230.55" class="w">-0.02</text>
<text x="268.95" y="230.55">0.01</text>
<text x="280.95" y="230.55" class="w">0.77</text>
<text x="292.95" y="230.55">0.03</text>
<text x="304.94" y="230.55">0.24</text>
<text x="328.94" y="230.55">0.01</text>
<text x="340.94" y="230.55" class="w">-0.02</text>
<text x="352.93" y="230.55">0.01</text>
<text x="364.93" y="230.55">0.02</text>
<text x="388.92" y="230.55">0.01</text>
<text x="400.92" y="230.55" class="w">1.00</text>
<text x="412.92" y="230.55" class="w">-0.04</text>
<text x="424.92" y="230.55" class="w">0.00</text>
<text x="436.91" y="230.55">0.63</text>
<text x="448.91" y="230.55">0.46</text>
<text x="460.91" y="230.55">0.40</text>
<text x="472.90" y="230.55">0.46</text>
<text x="484.90" y="230.55" class="w">-0.17</text>
<text x="77.00" y="238.45" class="w">-0.02</text>
<text x="89.00" y="238.45">0.02</text>
<text x="100.99" y="238.45" class="w">0.00</text>
<text x="112.99" y="238.45">0.04</text>
<text x="124.99" y="238.45" class="w">-0.04</text>
<text x="136.98" y="238.45" class="w">-0.03</text>
<text x="148.98" y="238.45" class="w">0.00</text>
<text x="172.98" y="238.45">0.02</text>
<text x="184.97" y="238.45" class="w">-0.02</text>
<text x="196.97" y="238.45" class="w">-0.04</text>
<text x="208.97" y="238.45" class="w">-0.01</text>
<text x="220.96" y="238.45" class="w">-0.02</text>
<text x="232.96" y="238.45" class="w">-0.02</text>
<text x="244.96" y="238.45" class="w">-0.01</text>
<text x="256.96" y="238.45" class="w">-0.01</text>
<text x="268.95" y="238.45" class="w">-0.02</text>
<text x="280.95" y="238.45" class="w">-0.02</text>
<text x="292.95" y="238.45" class="w">0.00</text>
<text x="304.94" y="238.45" class="w">-0.07</text>
<text x="328.94" y="238.45" class="w">-0.08</text>
<text x="340.94" y="238.45" class="w">-0.01</text>
<text x="352.93" y="238.45" class="w">-0.02</text>
<text x="364.93" y="238.45" class="w">0.00</text>
<text x="388.92" y="238.45">0.01</text>
<text x="400.92" y="238.45" class="w">-0.04</text>
<text x="412.92" y="238.45" class="w">1.00</text>
<text x="424.92" y="238.45">0.03</text>
<text x="436.91" y="238.45" class="w">0.00</text>
<text x="448.91" y="238.45" class="w">-0.01</text>
<text x="460.91" y="238.45" class="w">-0.00</text>
<text x="472.90" y="238.45" class="w">-0.00</text>
<text x="484.90" y="238.45" class="w">-0.06</text>
<text x="77.00" y="246.35" class="w">-0.02</text>
<text x="89.00" y="246.35" class="w">0.00</text>
<text x="100.99" y="246.35" class="w">-0.04</text>
<text x="112.99" y="246.35">0.03</text>
<text x="124.99" y="246.35" class="w">-0.03</text>
<text x="136.98" y="246.35">0.01</text>
<text x="148.98" y="246.35">0.02</text>
<text x="172.98" y="246.35">0.01</text>
<text x="184.97" y="246.35">0.03</text>
<text x="196.97" y="246.35" class="w">-0.00</text>
<text x="208.97" y="246.35" class="w">-0.00</text>
<text x="220.96" y="246.35" class="w">-0.01</text>
<text x="232.96" y="246.35">0.04</text>
<text x="244.96" y="246.35">0.04</text>
<text x="256.96" y="246.35" class="w">-0.02</text>
<text x="268.95" y="246.35" class="w">0.00</text>
<text x="280.95" y="246.35">0.03</text>
<text x="292.95" y="246.35">0.01</text>
<text x="304.94" y="246.35" class="w">-0.01</text>
<text x="328.94" y="246.35" class="w">-0.03</text>
<text x="340.94" y="246.35" class="w">-0.00</text>
<text x="352.93" y="246.35" class="w">0.00</text>
<text x="364.93" y="246.35">0.02</text>
<text x="388.92" y="246.35" class="w">0.00</text>
<text x="400.92" y="246.35" class="w">0.00</text>
<text x="412.92" y="246.35">0.03</text>
<text x="424.92" y="246.35" class="w">1.00</text>
<text x="436.91" y="246.35">0.01</text>
<text x="448.91" y="246.35">0.05</text>
<text x="460.91" y="246.35">0.01</text>
<text x="472.90" y="246.35" class="w">0.00</text>
<text x="484.90" y="246.35" class="w">-0.06</text>
<text x="77.00" y="254.25">0.31</text>
<text x="89.00" y="254.25" class="w">-0.01</text>
<text x="100.99" y="254.25" class="w">-0.03</text>
<text x="112.99" y="254.25">0.02</text>
<text x="124.99" y="254.25">0.01</text>
<text x="136.98" y="254.25">0.07</text>
<text x="148.98" y="254.25">0.01</text>
<text x="172.98" y="254.25" class="w">-0.01</text>
<text x="184.97" y="254.25" class="w">0.00</text>
<text x="196.97" y="254.25" class="w">-0.03</text>
<text x="208.97" y="254.25" class="w">-0.02</text>
<text x="220.96" y="254.25" class="w">-0.02</text>
<text x="232.96" y="254.25">0.53</text>
<text x="244.96" y="254.25">0.23</text>
<text x="256.96" y="254.25" class="w">-0.00</text>
<text x="268.95" y="254.25">0.01</text>
<text x="280.95" y="254.25">0.51</text>
<text x="292.95" y="254.25" class="w">-0.02</text>
<text x="304.94" y="254.25" class="w">-0.12</text>
<text x="328.94" y="254.25" class="w">-0.01</text>
<text x="340.94" y="254.25" class="w">-0.04</text>
<text x="352.93" y="254.25" class="w">0.00</text>
<text x="364.93" y="254.25">0.02</text>
<text x="388.92" y="254.25">0.02</text>
<text x="400.92" y="254.25">0.63</text>
<text x="412.92" y="254.25" class="w">0.00</text>
<text x="424.92" y="254.25">0.01</text>
<text x="436.91" y="254.25" class="w">1.00</text>
<text x="448.91" y="254.25" class="w">0.76</text>
<text x="460.91" y="254.25">0.62</text>
<text x="472.90" y="254.25" class="w">0.77</text>
<text x="484.90" y="254.25" class="w">-0.13</text>
<text x="77.00" y="262.15">0.21</text>
<text x="89.00" y="262.15" class="w">-0.01</text>
<text x="100.99" y="262.15">0.01</text>
<text x="112.99" y="262.15">0.06</text>
<text x="124.99" y="262.15">0.02</text>
<text x="136.98" y="262.15">0.06</text>
<text x="148.98" y="262.15" class="w">0.00</text>
<text x="172.98" y="262.15" class="w">-0.01</text>
<text x="184.97" y="262.15">0.02</text>
<text x="196.97" y="262.15" class="w">-0.04</text>
<text x="208.97" y="262.15" class="w">-0.02</text>
<text x="220.96" y="262.15">0.01</text>
<text x="232.96" y="262.15">0.39</text>
<text x="244.96" y="262.15">0.11</text>
<text x="256.96" y="262.15" class="w">-0.00</text>
<text x="268.95" y="262.15">0.03</text>
<text x="280.95" y="262.15">0.36</text>
<text x="292.95" y="262.15" class="w">-0.01</text>
<text x="304.94" y="262.15" class="w">-0.09</text>
<text x="328.94" y="262.15" class="w">-0.03</text>
<text x="340.94" y="262.15" class="w">-0.00</text>
<text x="352.93" y="262.15">0.03</text>
<text x="364.93" y="262.15" class="w">-0.02</text>
<text x="388.92" y="262.15">0.05</text>
<text x="400.92" y="262.15">0.46</text>
<text x="412.92" y="262.15" class="w">-0.01</text>
<text x="424.92" y="262.15">0.05</text>
<text x="436.91" y="262.15" class="w">0.76</text>
<text x="448.91" y="262.15" class="w">1.00</text>
<text x="460.91" y="262.15">0.55</text>
<text x="472.90" y="262.15" class="w">0.71</text>
<text x="484.90" y="262.15" class="w">-0.16</text>
<text x="77.00" y="270.05">0.22</text>
<text x="89.00" y="270.05" class="w">-0.01</text>
<text x="100.99" y="270.05" class="w">-0.03</text>
<text x="112.99" y="270.05">0.04</text>
<text x="124.99" y="270.05">0.01</text>
<text x="136.98" y="270.05">0.05</text>
<text x="148.98" y="270.05">0.01</text>
<text x="172.98" y="270.05" class="w">-0.01</text>
<text x="184.97" y="270.05">0.02</text>
<text x="196.97" y="270.05" class="w">-0.03</text>
<text x="208.97" y="270.05" class="w">-0.03</text>
<text x="220.96" y="270.05" class="w">-0.02</text>
<text x="232.96" y="270.05">0.35</text>
<text x="244.96" y="270.05">0.14</text>
<text x="256.96" y="270.05" class="w">-0.02</text>
<text x="268.95" y="270.05">0.04</text>
<text x="280.95" y="270.05">0.34</text>
<text x="292.95" y="270.05" class="w">0.00</text>
<text x="304.94" y="270.05" class="w">-0.04</text>
<text x="328.94" y="270.05" class="w">-0.01</text>
<text x="340.94" y="270.05" class="w">-0.02</text>
<text x="352.93" y="270.05">0.02</text>
<text x="364.93" y="270.05">0.03</text>
<text x="388.92" y="270.05">0.01</text>
<text x="400.92" y="270.05">0.40</text>
<text x="412.92" y="270.05" class="w">-0.00</text>
<text x="424.92" y="270.05">0.01</text>
<text x="436.91" y="270.05">0.62</text>
<text x="448.91" y="270.05">0.55</text>
<text x="460.91" y="270.05" class="w">1.00</text>
<text x="472.90" y="270.05">0.51</text>
<text x="484.90" y="270.05" class="w">-0.03</text>
<text x="77.00" y="277.95">0.20</text>
<text x="89.00" y="277.95" class="w">-0.00</text>
<text x="100.99" y="277.95" class="w">-0.03</text>
<text x="112.99" y="277.95">0.03</text>
<text x="124.99" y="277.95">0.01</text>
<text x="136.98" y="277.95">0.07</text>
<text x="148.98" y="277.95" class="w">0.00</text>
<text x="172.98" y="277.95" class="w">-0.01</text>
<text x="184.97" y="277.95" class="w">-0.00</text>
<text x="196.97" y="277.95" class="w">-0.03</text>
<text x="208.97" y="277.95" class="w">-0.02</text>
<text x="220.96" y="277.95">0.03</text>
<text x="232.96" y="277.95">0.38</text>
<text x="244.96" y="277.95">0.10</text>
<text x="256.96" y="277.95" class="w">-0.03</text>
<text x="268.95" y="277.95">0.01</text>
<text x="280.95" y="277.95">0.34</text>
<text x="292.95" y="277.95" class="w">-0.04</text>
<text x="304.94" y="277.95" class="w">-0.11</text>
<text x="328.94" y="277.95" class="w">-0.04</text>
<text x="340.94" y="277.95" class="w">-0.01</text>
<text x="352.93" y="277.95">0.02</text>
<text x="364.93" y="277.95" class="w">-0.00</text>
<text x="388.92" y="277.95">0.02</text>
<text x="400.92" y="277.95">0.46</text>
<text x="412.92" y="277.95" class="w">-0.00</text>
<text x="424.92" y="277.95" class="w">0.00</text>
<text x="436.91" y="277.95" class="w">0.77</text>
<text x="448.91" y="277.95" class="w">0.71</text>
<text x="460.91" y="277.95">0.51</text>
<text x="472.90" y="277.95" class="w">1.00</text>
<text x="484.90" y="277.95" class="w">-0.16</text>
<text x="77.00" y="285.85" class="w">-0.16</text>
<text x="89.00" y="285.85">0.13</text>
<text x="100.99" y="285.85" class="w">-0.06</text>
<text x="112.99" y="285.85">0.06</text>
<text x="124.99" y="285.85">0.08</text>
<text x="136.98" y="285.85" class="w">-0.03</text>
<text x="148.98" y="285.85">0.09</text>
<text x="172.98" y="285.85" class="w">-0.01</text>
<text x="184.97" y="285.85" class="w">-0.10</text>
<text x="196.97" y="285.85">0.03</text>
<text x="208.97" y="285.85" class="w">-0.01</text>
<text x="220.96" y="285.85" class="w">-0.13</text>
<text x="232.96" y="285.85" class="w">-0.17</text>
<text x="244.96" y="285.85" class="w">-0.06</text>
<text x="256.96" y="285.85" class="w">-0.10</text>
<text x="268.95" y="285.85" class="w">-0.01</text>
<text x="280.95" y="285.85" class="w">-0.16</text>
<text x="292.95" y="285.85">0.02</text>
<text x="304.94" y="285.85">0.04</text>
<text x="328.94" y="285.85">0.25</text>
<text x="340.94" y="285.85" class="w">-0.01</text>
<text x="352.93" y="285.85" class="w">0.00</text>
<text x="364.93" y="285.85" class="w">-0.05</text>
<text x="388.92" y="285.85" class="w">-0.14</text>
<text x="400.92" y="285.85" class="w">-0.17</text>
<text x="412.92" y="285.85" class="w">-0.06</text>
<text x="424.92" y="285.85" class="w">-0.06</text>
<text x="436.91" y="285.85" class="w">-0.13</text>
<text x="448.91" y="285.85" class="w">-0.16</text>
<text x="460.91" y="285.85" class="w">-0.03</text>
<text x="472.90" y="285.85" class="w">-0.16</text>
<text x="484.90" y="285.85" class="w">1.00</text>
</g>
<path d="M69.28 15.95H71.00M69.28 23.85H71.00M69.28 31.75H71.00M69.28 39.65H71.00M69.28 47.55H71.00M69.28 55.45H71.00M69.28 63.35H71.00M69.28 71.25H71.00M69.28 79.15H71.00M69.28 87.05H71.00M69.28 94.95H71.00M69.28 102.85H71.00M69.28 110.75H71.00M69.28 118.65H71.00M69.28 126.55H71.00M69.28 134.45H71.00M69.28 142.35H71.00M69.28 150.25H71.00M69.28 158.15H71.00M69.28 166.05H71.00M69.28 173.95H71.00M69.28 181.85H71.00M69.28 189.75H71.00M69.28 197.65H71.00M69.28 205.55H71.00M69.28 213.45H71.00M69.28 221.35H71.00M69.28 229.25H71.00M69.28 237.15H71.00M69.28 245.05H71.00M69.28 252.95H71.00M69.28 260.85H71.00M69.28 268.75H71.00M69.28 276.65H71.00M69.28 284.55H71.00M77.00 288.50V290.22M89.00 288.50V290.22M100.99 288.50V290.22M112.99 288.50V290.22M124.99 288.50V290.22M136.98 288.50V290.22M148.98 288.50V290.22M160.98 288.50V290.22M172.98 288.50V290.22M184.97 288.50V290.22M196.97 288.50V290.22M208.97 288.50V290.22M220.96 288.50V290.22M232.96 288.50V290.22M244.96 288.50V290.22M256.96 288.50V290.22M268.95 288.50V290.22M280.95 288.50V290.22M292.95 288.50V290.22M304.94 288.50V290.22M316.94 288.50V290.22M328.94 288.50V290.22M340.94 288.50V290.22M352.93 288.50V290.22M364.93 288.50V290.22M376.93 288.50V290.22M388.92 288.50V290.22M400.92 288.50V290.22M412.92 288.50V290.22M424.92 288.50V290.22M436.91 288.50V290.22M448.91 288.50V290.22M460.91 288.50V290.22M472.90 288.50V290.22M484.90 288.50V290.22" stroke="#000" stroke-width="0.39" fill="none"/>
<g transform="matrix(1 0.0006 0 1 0 -0.0240)" font-size="4.95" text-anchor="end" fill="#1a1a1a" stroke="#1a1a1a" stroke-width="0.07">
<text x="67.21" y="17.48">Age</text>
<text x="67.21" y="25.38">BusinessTravel</text>
<text x="67.21" y="33.28">DailyRate</text>
<text x="67.21" y="41.18">Department</text>
<text x="67.21" y="49.08">DistanceFromHome</text>
<text x="67.21" y="56.98">Education</text>
<text x="67.21" y="64.88">EducationField</text>
<text x="67.21" y="72.78">EmployeeCount</text>
<text x="67.21" y="80.68">EmployeeNumber</text>
<text x="67.21" y="88.58">EnvironmentSatisfaction</text>
<text x="67.21" y="96.48">Gender</text>
<text x="67.21" y="104.38">HourlyRate</text>
<text x="67.21" y="112.28">JobInvolvement</text>
<text x="67.21" y="120.18">JobLevel</text>
<text x="67.21" y="128.08">JobRole</text>
<text x="67.21" y="135.98">JobSatisfaction</text>
<text x="67.21" y="143.88">MaritalStatus</text>
<text x="67.21" y="151.78">MonthlyIncome</text>
<text x="67.21" y="159.68">MonthlyRate</text>
<text x="67.21" y="167.58">NumCompaniesWorked</text>
<text x="67.21" y="175.48">Over18</text>
<text x="67.21" y="183.38">OverTime</text>
<text x="67.21" y="191.28">PercentSalaryHike</text>
<text x="67.21" y="199.18">PerformanceRating</text>
<text x="67.21" y="207.08">RelationshipSatisfaction</text>
<text x="67.21" y="214.98">StandardHours</text>
<text x="67.21" y="222.88">StockOptionLevel</text>
<text x="67.21" y="230.78">TotalWorkingYears</text>
<text x="67.21" y="238.68">TrainingTimesLastYear</text>
<text x="67.21" y="246.58">WorkLifeBalance</text>
<text x="67.21" y="254.48">YearsAtCompany</text>
<text x="67.21" y="262.38">YearsInCurrentRole</text>
<text x="67.21" y="270.28">YearsSinceLastPromotion</text>
<text x="67.21" y="278.18">YearsWithCurrManager</text>
<text x="67.21" y="286.08">Attrition</text>
</g>
<g transform="matrix(1 0.0006 0 1 0 -0.1686)" font-size="4.95" text-anchor="end" fill="#1a1a1a" stroke="#1a1a1a" stroke-width="0.07">
<text transform="translate(78.83 292.44) rotate(-90)">Age</text>
<text transform="translate(90.83 292.44) rotate(-90)">BusinessTravel</text>
<text transform="translate(102.82 292.44) rotate(-90)">DailyRate</text>
<text transform="translate(114.82 292.44) rotate(-90)">Department</text>
<text transform="translate(126.82 292.44) rotate(-90)">DistanceFromHome</text>
<text transform="translate(138.82 292.44) rotate(-90)">Education</text>
<text transform="translate(150.81 292.44) rotate(-90)">EducationField</text>
<text transform="translate(162.81 292.44) rotate(-90)">EmployeeCount</text>
<text transform="translate(174.81 292.44) rotate(-90)">EmployeeNumber</text>
<text transform="translate(186.80 292.44) rotate(-90)">EnvironmentSatisfaction</text>
<text transform="translate(198.80 292.44) rotate(-90)">Gender</text>
<text transform="translate(210.80 292.44) rotate(-90)">HourlyRate</text>
<text transform="translate(222.80 292.44) rotate(-90)">JobInvolvement</text>
<text transform="translate(234.79 292.44) rotate(-90)">JobLevel</text>
<text transform="translate(246.79 292.44) rotate(-90)">JobRole</text>
<text transform="translate(258.79 292.44) rotate(-90)">JobSatisfaction</text>
<text transform="translate(270.78 292.44) rotate(-90)">MaritalStatus</text>
<text transform="translate(282.78 292.44) rotate(-90)">MonthlyIncome</text>
<text transform="translate(294.78 292.44) rotate(-90)">MonthlyRate</text>
<text transform="translate(306.78 292.44) rotate(-90)">NumCompaniesWorked</text>
<text transform="translate(318.77 292.44) rotate(-90)">Over18</text>
<text transform="translate(330.77 292.44) rotate(-90)">OverTime</text>
<text transform="translate(342.77 292.44) rotate(-90)">PercentSalaryHike</text>
<text transform="translate(354.76 292.44) rotate(-90)">PerformanceRating</text>
<text transform="translate(366.76 292.44) rotate(-90)">RelationshipSatisfaction</text>
<text transform="translate(378.76 292.44) rotate(-90)">StandardHours</text>
<text transform="translate(390.76 292.44) rotate(-90)">StockOptionLevel</text>
<text transform="translate(402.75 292.44) rotate(-90)">TotalWorkingYears</text>
<text transform="translate(414.75 292.44) rotate(-90)">TrainingTimesLastYear</text>
<text transform="translate(426.75 292.44) rotate(-90)">WorkLifeBalance</text>
<text transform="translate(438.74 292.44) rotate(-90)">YearsAtCompany</text>
<text transform="translate(450.74 292.44) rotate(-90)">YearsInCurrentRole</text>
<text transform="translate(462.74 292.44) rotate(-90)">YearsSinceLastPromotion</text>
<text transform="translate(474.74 292.44) rotate(-90)">YearsWithCurrManager</text>
<text transform="translate(486.73 292.44) rotate(-90)">Attrition</text>
</g>
<rect x="517.00" y="12.00" width="14.00" height="276.50" fill="url(#cb)"/>
<g transform="matrix(1 0.0006 0 1 0 -0.3228)" font-size="4.95" fill="#1a1a1a">
<text x="534.44" y="13.96">1.0</text>
<text x="534.44" y="56.66">0.8</text>
<text x="534.44" y="99.37">0.6</text>
<text x="534.44" y="142.07">0.4</text>
<text x="534.44" y="184.77">0.2</text>
<text x="534.44" y="227.47">0.0</text>
<text x="534.44" y="270.18">−0.2</text>
</g>
<path d="M531.00 12.00H532.72M531.00 54.70H532.72M531.00 97.41H532.72M531.00 140.11H532.72M531.00 182.81H532.72M531.00 225.51H532.72M531.00 268.22H532.72" stroke="#000" stroke-width="0.39" fill="none"/>
</svg></body></html>
